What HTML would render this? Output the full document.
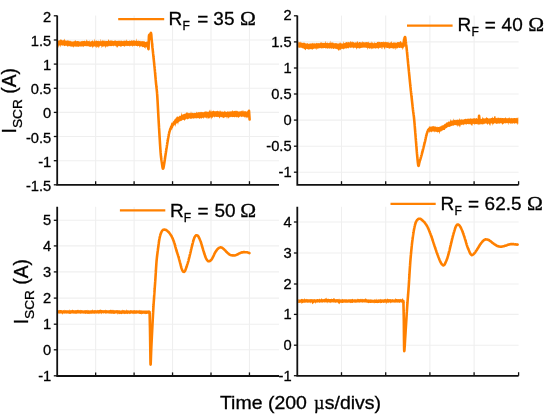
<!DOCTYPE html>
<html><head><meta charset="utf-8"><style>
html,body{margin:0;padding:0;background:#fff;}
svg{display:block;filter:blur(0.35px);}
text{font-family:"Liberation Sans",Arial,sans-serif;fill:#000;stroke:#000;stroke-width:0.3px;}
.tl text{font-size:14.7px;text-anchor:end;}
.lg{font-size:17.3px;}
.lgs{font-size:12px;}
.om{font-family:"Liberation Serif","Times New Roman",serif;font-size:18.5px;}
.yl{font-size:19.3px;}
.yls{font-size:13.7px;}
.xl{font-size:18.7px;}
.mu{font-family:"Liberation Serif",serif;}
</style></head><body>
<svg width="550" height="419" viewBox="0 0 550 419">
<rect width="550" height="419" fill="#fff"/>
<g stroke="#efefef" stroke-width="1.1">
<line x1="95.65" y1="15.6" x2="95.65" y2="184.8"/>
<line x1="134.10" y1="15.6" x2="134.10" y2="184.8"/>
<line x1="172.55" y1="15.6" x2="172.55" y2="184.8"/>
<line x1="211.00" y1="15.6" x2="211.00" y2="184.8"/>
<line x1="249.45" y1="15.6" x2="249.45" y2="184.8"/>
<line x1="58.7" y1="40.0" x2="279" y2="40.0"/>
<line x1="58.7" y1="64.1" x2="279" y2="64.1"/>
<line x1="58.7" y1="88.3" x2="279" y2="88.3"/>
<line x1="58.7" y1="112.4" x2="279" y2="112.4"/>
<line x1="58.7" y1="136.5" x2="279" y2="136.5"/>
<line x1="58.7" y1="160.7" x2="279" y2="160.7"/>
<line x1="341.50" y1="15.6" x2="341.50" y2="184.8"/>
<line x1="385.70" y1="15.6" x2="385.70" y2="184.8"/>
<line x1="429.90" y1="15.6" x2="429.90" y2="184.8"/>
<line x1="474.10" y1="15.6" x2="474.10" y2="184.8"/>
<line x1="298.8" y1="41.9" x2="518.6" y2="41.9"/>
<line x1="298.8" y1="68.0" x2="518.6" y2="68.0"/>
<line x1="298.8" y1="94.0" x2="518.6" y2="94.0"/>
<line x1="298.8" y1="120.1" x2="518.6" y2="120.1"/>
<line x1="298.8" y1="146.2" x2="518.6" y2="146.2"/>
<line x1="298.8" y1="172.2" x2="518.6" y2="172.2"/>
<line x1="95.65" y1="206.8" x2="95.65" y2="376.0"/>
<line x1="134.10" y1="206.8" x2="134.10" y2="376.0"/>
<line x1="172.55" y1="206.8" x2="172.55" y2="376.0"/>
<line x1="211.00" y1="206.8" x2="211.00" y2="376.0"/>
<line x1="249.45" y1="206.8" x2="249.45" y2="376.0"/>
<line x1="58.7" y1="220.3" x2="279" y2="220.3"/>
<line x1="58.7" y1="245.9" x2="279" y2="245.9"/>
<line x1="58.7" y1="271.9" x2="279" y2="271.9"/>
<line x1="58.7" y1="298.1" x2="279" y2="298.1"/>
<line x1="58.7" y1="324.2" x2="279" y2="324.2"/>
<line x1="58.7" y1="349.8" x2="279" y2="349.8"/>
<line x1="341.50" y1="206.8" x2="341.50" y2="375.8"/>
<line x1="385.70" y1="206.8" x2="385.70" y2="375.8"/>
<line x1="429.90" y1="206.8" x2="429.90" y2="375.8"/>
<line x1="474.10" y1="206.8" x2="474.10" y2="375.8"/>
<line x1="298.8" y1="222.0" x2="518.6" y2="222.0"/>
<line x1="298.8" y1="253.0" x2="518.6" y2="253.0"/>
<line x1="298.8" y1="284.0" x2="518.6" y2="284.0"/>
<line x1="298.8" y1="314.4" x2="518.6" y2="314.4"/>
<line x1="298.8" y1="345.2" x2="518.6" y2="345.2"/>
</g>
<g fill="#ff8000" stroke="none">
<path d="M57.80,40.48 L58.30,40.53 L58.80,40.40 L59.30,40.46 L59.80,40.02 L60.30,39.69 L60.80,39.33 L61.30,39.95 L61.80,39.61 L62.30,40.20 L62.80,40.44 L63.30,40.30 L63.80,40.06 L64.30,38.50 L64.80,40.16 L65.30,40.27 L65.80,40.66 L66.30,40.46 L66.80,40.75 L67.30,40.83 L67.80,40.05 L68.30,40.45 L68.80,40.75 L69.30,41.22 L69.80,40.38 L70.30,40.64 L70.80,41.21 L71.30,41.13 L71.80,41.51 L72.30,41.55 L72.80,41.48 L73.30,41.08 L73.80,41.67 L74.30,40.60 L74.80,41.38 L75.30,40.75 L75.80,40.11 L76.30,41.46 L76.80,41.05 L77.30,40.92 L77.80,41.07 L78.30,41.15 L78.80,41.04 L79.30,41.51 L79.80,41.53 L80.30,41.47 L80.80,41.46 L81.30,41.05 L81.80,41.15 L82.30,41.30 L82.80,40.85 L83.30,41.10 L83.80,41.02 L84.30,40.80 L84.80,40.70 L85.30,41.27 L85.80,41.35 L86.30,40.71 L86.80,39.27 L87.30,40.66 L87.80,41.18 L88.30,41.06 L88.80,41.28 L89.30,40.19 L89.80,41.39 L90.30,41.51 L90.80,41.50 L91.30,40.97 L91.80,41.36 L92.30,39.89 L92.80,40.91 L93.30,41.34 L93.80,41.50 L94.30,38.62 L94.80,41.18 L95.30,41.23 L95.80,40.48 L96.30,40.58 L96.80,40.87 L97.30,40.88 L97.80,40.96 L98.30,40.48 L98.80,41.16 L99.30,41.12 L99.80,41.14 L100.30,41.21 L100.80,38.79 L101.30,40.99 L101.80,41.25 L102.30,40.98 L102.80,39.65 L103.30,40.47 L103.80,41.00 L104.30,41.23 L104.80,40.33 L105.30,40.68 L105.80,41.16 L106.30,40.76 L106.80,40.96 L107.30,41.04 L107.80,41.03 L108.30,38.88 L108.80,40.27 L109.30,40.93 L109.80,40.58 L110.30,40.55 L110.80,40.60 L111.30,40.68 L111.80,40.22 L112.30,40.83 L112.80,40.71 L113.30,40.92 L113.80,41.03 L114.30,40.56 L114.80,40.87 L115.30,40.12 L115.80,41.05 L116.30,41.11 L116.80,40.72 L117.30,41.09 L117.80,40.64 L118.30,40.72 L118.80,40.65 L119.30,40.84 L119.80,40.76 L120.30,40.53 L120.80,41.16 L121.30,41.01 L121.80,40.27 L122.30,41.15 L122.80,40.94 L123.30,40.54 L123.80,41.17 L124.30,40.43 L124.80,40.67 L125.30,40.65 L125.80,40.67 L126.30,40.83 L126.80,39.24 L127.30,40.97 L127.80,40.96 L128.30,40.90 L128.80,40.89 L129.30,40.28 L129.80,40.93 L130.30,40.99 L130.80,40.79 L131.30,40.09 L131.80,40.72 L132.30,40.98 L132.80,40.18 L133.30,40.84 L133.80,40.07 L134.30,40.35 L134.80,40.65 L135.30,40.75 L135.80,41.06 L136.30,38.27 L136.80,41.00 L137.30,40.86 L137.80,40.93 L138.30,40.16 L138.80,41.22 L139.30,40.97 L139.80,40.84 L140.30,41.46 L140.80,40.77 L141.30,41.03 L141.80,41.57 L142.30,41.11 L142.80,41.17 L143.30,41.26 L143.80,41.31 L144.30,41.03 L144.80,41.70 L145.30,41.92 L145.80,41.85 L146.30,41.87 L146.80,41.42 L147.30,41.37 L147.80,41.69 L148.30,41.97 L148.30,46.98 L147.80,47.34 L147.30,47.44 L146.80,46.86 L146.30,47.91 L145.80,46.72 L145.30,49.20 L144.80,47.33 L144.30,48.28 L143.80,46.95 L143.30,46.97 L142.80,47.26 L142.30,47.04 L141.80,46.33 L141.30,46.42 L140.80,46.45 L140.30,46.21 L139.80,47.91 L139.30,46.15 L138.80,46.07 L138.30,46.01 L137.80,46.08 L137.30,46.63 L136.80,46.06 L136.30,45.99 L135.80,45.81 L135.30,45.78 L134.80,45.80 L134.30,46.26 L133.80,45.68 L133.30,45.91 L132.80,45.75 L132.30,47.03 L131.80,45.81 L131.30,45.84 L130.80,46.34 L130.30,45.70 L129.80,45.68 L129.30,46.66 L128.80,45.79 L128.30,45.96 L127.80,46.34 L127.30,45.71 L126.80,46.35 L126.30,45.69 L125.80,45.81 L125.30,46.00 L124.80,46.96 L124.30,46.24 L123.80,46.15 L123.30,45.91 L122.80,45.96 L122.30,45.90 L121.80,46.15 L121.30,46.41 L120.80,47.06 L120.30,46.26 L119.80,46.20 L119.30,45.93 L118.80,46.27 L118.30,45.94 L117.80,46.79 L117.30,47.91 L116.80,45.86 L116.30,47.71 L115.80,46.34 L115.30,45.77 L114.80,45.74 L114.30,45.67 L113.80,45.83 L113.30,46.56 L112.80,46.04 L112.30,45.79 L111.80,45.99 L111.30,46.26 L110.80,46.08 L110.30,46.35 L109.80,45.75 L109.30,46.19 L108.80,46.19 L108.30,46.22 L107.80,46.00 L107.30,47.16 L106.80,46.45 L106.30,46.56 L105.80,46.49 L105.30,48.39 L104.80,46.24 L104.30,46.24 L103.80,46.52 L103.30,46.38 L102.80,46.66 L102.30,46.39 L101.80,48.36 L101.30,45.89 L100.80,45.94 L100.30,45.85 L99.80,45.97 L99.30,47.07 L98.80,48.52 L98.30,46.80 L97.80,46.50 L97.30,47.41 L96.80,46.17 L96.30,48.21 L95.80,47.27 L95.30,46.38 L94.80,46.46 L94.30,46.27 L93.80,46.67 L93.30,46.48 L92.80,48.61 L92.30,46.86 L91.80,46.65 L91.30,46.14 L90.80,47.04 L90.30,46.68 L89.80,46.44 L89.30,46.96 L88.80,46.09 L88.30,46.50 L87.80,46.49 L87.30,46.02 L86.80,46.03 L86.30,46.51 L85.80,45.97 L85.30,46.24 L84.80,46.02 L84.30,46.24 L83.80,46.34 L83.30,47.36 L82.80,46.16 L82.30,46.40 L81.80,46.77 L81.30,46.32 L80.80,46.51 L80.30,46.59 L79.80,46.48 L79.30,46.19 L78.80,46.97 L78.30,46.67 L77.80,46.28 L77.30,46.93 L76.80,46.83 L76.30,46.48 L75.80,46.75 L75.30,46.61 L74.80,46.35 L74.30,46.53 L73.80,47.87 L73.30,46.78 L72.80,46.39 L72.30,46.72 L71.80,46.78 L71.30,46.60 L70.80,46.23 L70.30,46.80 L69.80,46.00 L69.30,46.19 L68.80,46.59 L68.30,45.83 L67.80,46.94 L67.30,46.16 L66.80,45.68 L66.30,45.64 L65.80,46.03 L65.30,45.61 L64.80,45.93 L64.30,46.13 L63.80,45.39 L63.30,45.50 L62.80,45.54 L62.30,45.66 L61.80,45.13 L61.30,45.55 L60.80,45.23 L60.30,47.38 L59.80,45.14 L59.30,45.47 L58.80,48.03 L58.30,45.65 L57.80,45.32Z"/>
<path d="M171.00,124.16 L171.50,122.31 L172.00,123.04 L172.50,122.60 L173.00,121.43 L173.50,121.07 L174.00,120.54 L174.50,119.62 L175.00,118.86 L175.50,118.71 L176.00,117.60 L176.50,117.61 L177.00,116.16 L177.50,116.43 L178.00,117.03 L178.50,116.82 L179.00,116.47 L179.50,115.46 L180.00,116.08 L180.50,115.85 L181.00,115.53 L181.50,112.05 L182.00,115.02 L182.50,114.43 L183.00,114.35 L183.50,114.29 L184.00,113.88 L184.50,113.64 L185.00,113.73 L185.50,113.40 L186.00,113.18 L186.50,112.05 L187.00,112.90 L187.50,111.94 L188.00,113.39 L188.50,113.02 L189.00,112.69 L189.50,113.26 L190.00,113.09 L190.50,113.17 L191.00,111.29 L191.50,112.89 L192.00,113.28 L192.50,112.82 L193.00,112.75 L193.50,113.18 L194.00,113.07 L194.50,112.73 L195.00,112.92 L195.50,112.97 L196.00,112.76 L196.50,111.54 L197.00,112.95 L197.50,112.19 L198.00,112.45 L198.50,112.11 L199.00,112.18 L199.50,112.07 L200.00,112.55 L200.50,111.85 L201.00,112.21 L201.50,111.86 L202.00,112.27 L202.50,112.08 L203.00,112.19 L203.50,112.18 L204.00,111.96 L204.50,111.64 L205.00,111.56 L205.50,111.56 L206.00,111.44 L206.50,111.77 L207.00,111.30 L207.50,111.97 L208.00,111.86 L208.50,111.81 L209.00,111.52 L209.50,109.54 L210.00,111.44 L210.50,111.17 L211.00,109.25 L211.50,111.72 L212.00,111.32 L212.50,111.23 L213.00,110.70 L213.50,110.45 L214.00,111.29 L214.50,111.37 L215.00,111.08 L215.50,111.47 L216.00,110.98 L216.50,111.36 L217.00,111.02 L217.50,110.59 L218.00,111.40 L218.50,111.03 L219.00,111.55 L219.50,111.50 L220.00,110.09 L220.50,111.37 L221.00,111.56 L221.50,111.40 L222.00,111.80 L222.50,111.55 L223.00,111.62 L223.50,111.81 L224.00,111.95 L224.50,110.59 L225.00,111.65 L225.50,111.31 L226.00,111.97 L226.50,111.92 L227.00,111.59 L227.50,111.50 L228.00,111.28 L228.50,111.74 L229.00,111.57 L229.50,111.58 L230.00,111.58 L230.50,111.52 L231.00,111.09 L231.50,111.55 L232.00,111.23 L232.50,109.76 L233.00,111.64 L233.50,110.98 L234.00,111.11 L234.50,110.95 L235.00,110.85 L235.50,111.20 L236.00,110.19 L236.50,111.32 L237.00,110.72 L237.50,111.05 L238.00,111.48 L238.50,111.41 L239.00,111.45 L239.50,111.39 L240.00,111.22 L240.50,111.47 L241.00,110.68 L241.50,110.64 L242.00,111.38 L242.50,111.07 L243.00,109.70 L243.50,111.16 L244.00,111.58 L244.50,111.27 L245.00,110.89 L245.50,111.20 L246.00,111.47 L246.50,111.49 L247.00,111.75 L247.50,110.57 L248.00,111.51 L248.50,111.79 L249.00,109.14 L249.00,117.32 L248.50,116.83 L248.00,118.57 L247.50,117.24 L247.00,117.40 L246.50,117.33 L246.00,118.76 L245.50,116.78 L245.00,116.94 L244.50,117.73 L244.00,116.55 L243.50,117.08 L243.00,116.56 L242.50,116.66 L242.00,116.75 L241.50,117.13 L241.00,116.44 L240.50,116.50 L240.00,116.47 L239.50,116.90 L239.00,117.18 L238.50,117.74 L238.00,117.82 L237.50,116.78 L237.00,117.23 L236.50,117.27 L236.00,117.25 L235.50,116.70 L235.00,116.97 L234.50,117.42 L234.00,116.97 L233.50,117.09 L233.00,117.03 L232.50,117.34 L232.00,116.88 L231.50,116.71 L231.00,117.16 L230.50,116.78 L230.00,117.44 L229.50,116.97 L229.00,117.63 L228.50,118.72 L228.00,117.11 L227.50,117.15 L227.00,118.92 L226.50,117.03 L226.00,117.29 L225.50,117.07 L225.00,117.26 L224.50,117.26 L224.00,118.37 L223.50,118.06 L223.00,117.57 L222.50,117.45 L222.00,117.37 L221.50,117.21 L221.00,116.82 L220.50,117.04 L220.00,117.45 L219.50,118.87 L219.00,117.23 L218.50,116.68 L218.00,117.15 L217.50,116.96 L217.00,116.66 L216.50,116.89 L216.00,117.08 L215.50,116.49 L215.00,117.13 L214.50,117.47 L214.00,116.58 L213.50,116.66 L213.00,117.12 L212.50,118.09 L212.00,117.54 L211.50,119.82 L211.00,116.85 L210.50,117.40 L210.00,118.84 L209.50,117.61 L209.00,118.85 L208.50,117.63 L208.00,119.46 L207.50,117.85 L207.00,117.32 L206.50,118.42 L206.00,118.28 L205.50,117.41 L205.00,117.38 L204.50,117.71 L204.00,117.25 L203.50,119.09 L203.00,117.88 L202.50,117.80 L202.00,117.92 L201.50,118.70 L201.00,118.54 L200.50,118.30 L200.00,117.94 L199.50,118.90 L199.00,118.75 L198.50,118.03 L198.00,117.99 L197.50,117.99 L197.00,118.76 L196.50,118.20 L196.00,118.27 L195.50,118.32 L195.00,118.31 L194.50,118.31 L194.00,118.56 L193.50,118.81 L193.00,118.30 L192.50,118.33 L192.00,118.85 L191.50,118.81 L191.00,118.41 L190.50,119.11 L190.00,118.42 L189.50,118.37 L189.00,118.73 L188.50,118.68 L188.00,119.13 L187.50,119.44 L187.00,118.70 L186.50,118.66 L186.00,119.48 L185.50,119.44 L185.00,119.80 L184.50,121.13 L184.00,119.73 L183.50,119.95 L183.00,119.88 L182.50,119.79 L182.00,120.63 L181.50,120.63 L181.00,120.67 L180.50,120.96 L180.00,121.45 L179.50,121.43 L179.00,121.67 L178.50,122.45 L178.00,124.96 L177.50,122.92 L177.00,123.02 L176.50,123.72 L176.00,123.77 L175.50,127.17 L175.00,124.50 L174.50,125.58 L174.00,125.57 L173.50,126.17 L173.00,127.74 L172.50,128.24 L172.00,129.97 L171.50,129.16 L171.00,130.02Z"/>
<path d="M298.20,40.42 L298.70,42.47 L299.20,42.35 L299.70,42.25 L300.20,41.56 L300.70,42.73 L301.20,42.00 L301.70,42.93 L302.20,43.07 L302.70,42.87 L303.20,42.80 L303.70,42.73 L304.20,42.61 L304.70,42.98 L305.20,42.95 L305.70,43.50 L306.20,43.70 L306.70,43.37 L307.20,43.44 L307.70,43.11 L308.20,43.52 L308.70,43.89 L309.20,43.52 L309.70,43.86 L310.20,43.01 L310.70,43.69 L311.20,43.66 L311.70,43.29 L312.20,42.81 L312.70,43.48 L313.20,42.73 L313.70,43.71 L314.20,43.67 L314.70,42.73 L315.20,43.46 L315.70,43.58 L316.20,43.25 L316.70,42.71 L317.20,43.41 L317.70,42.90 L318.20,43.12 L318.70,43.21 L319.20,43.29 L319.70,43.28 L320.20,42.79 L320.70,42.62 L321.20,42.50 L321.70,42.59 L322.20,42.69 L322.70,43.10 L323.20,42.78 L323.70,43.07 L324.20,42.96 L324.70,42.85 L325.20,43.05 L325.70,40.74 L326.20,42.94 L326.70,43.12 L327.20,42.45 L327.70,42.84 L328.20,43.15 L328.70,43.05 L329.20,42.68 L329.70,42.91 L330.20,40.42 L330.70,43.28 L331.20,42.57 L331.70,42.81 L332.20,42.09 L332.70,43.10 L333.20,42.46 L333.70,43.35 L334.20,43.30 L334.70,43.21 L335.20,42.92 L335.70,43.13 L336.20,42.91 L336.70,43.27 L337.20,43.67 L337.70,43.30 L338.20,43.55 L338.70,43.47 L339.20,43.57 L339.70,42.84 L340.20,42.28 L340.70,43.33 L341.20,43.21 L341.70,43.58 L342.20,43.44 L342.70,43.40 L343.20,43.40 L343.70,41.19 L344.20,43.20 L344.70,42.89 L345.20,42.94 L345.70,42.23 L346.20,42.09 L346.70,42.28 L347.20,41.69 L347.70,42.66 L348.20,42.26 L348.70,41.76 L349.20,42.45 L349.70,42.25 L350.20,42.30 L350.70,40.75 L351.20,41.82 L351.70,42.42 L352.20,41.15 L352.70,42.22 L353.20,42.19 L353.70,42.05 L354.20,42.38 L354.70,42.70 L355.20,42.64 L355.70,42.07 L356.20,42.66 L356.70,42.36 L357.20,40.70 L357.70,41.91 L358.20,42.52 L358.70,42.69 L359.20,42.01 L359.70,42.08 L360.20,41.95 L360.70,42.42 L361.20,42.37 L361.70,42.68 L362.20,40.95 L362.70,42.62 L363.20,41.96 L363.70,42.26 L364.20,42.42 L364.70,42.19 L365.20,42.16 L365.70,42.13 L366.20,42.16 L366.70,42.06 L367.20,42.10 L367.70,42.61 L368.20,41.62 L368.70,42.46 L369.20,42.61 L369.70,43.05 L370.20,42.65 L370.70,43.10 L371.20,41.26 L371.70,43.00 L372.20,42.41 L372.70,42.43 L373.20,43.21 L373.70,43.21 L374.20,41.47 L374.70,43.25 L375.20,42.81 L375.70,43.11 L376.20,42.89 L376.70,42.65 L377.20,41.91 L377.70,42.09 L378.20,41.60 L378.70,42.20 L379.20,42.08 L379.70,41.81 L380.20,42.40 L380.70,42.03 L381.20,42.11 L381.70,41.90 L382.20,41.92 L382.70,42.22 L383.20,41.37 L383.70,42.29 L384.20,42.37 L384.70,42.12 L385.20,42.15 L385.70,41.58 L386.20,41.99 L386.70,42.17 L387.20,42.33 L387.70,42.21 L388.20,41.86 L388.70,42.79 L389.20,42.63 L389.70,42.82 L390.20,42.53 L390.70,42.60 L391.20,40.88 L391.70,42.37 L392.20,43.03 L392.70,42.77 L393.20,42.71 L393.70,42.26 L394.20,42.50 L394.70,42.38 L395.20,42.73 L395.70,42.50 L396.20,42.78 L396.70,42.70 L397.20,42.28 L397.70,41.96 L398.20,42.29 L398.70,42.06 L399.20,41.84 L399.70,42.52 L400.20,40.92 L400.70,41.00 L401.20,42.91 L401.70,41.54 L402.20,42.52 L402.70,42.62 L403.20,43.12 L403.70,43.11 L403.70,48.15 L403.20,48.20 L402.70,50.13 L402.20,48.09 L401.70,48.17 L401.20,47.75 L400.70,47.73 L400.20,47.68 L399.70,48.11 L399.20,47.91 L398.70,47.61 L398.20,47.84 L397.70,47.95 L397.20,48.52 L396.70,48.98 L396.20,47.67 L395.70,47.97 L395.20,50.30 L394.70,48.50 L394.20,47.88 L393.70,48.22 L393.20,49.20 L392.70,48.19 L392.20,48.23 L391.70,48.34 L391.20,48.07 L390.70,48.08 L390.20,48.38 L389.70,48.43 L389.20,48.73 L388.70,48.59 L388.20,47.75 L387.70,48.04 L387.20,47.88 L386.70,48.33 L386.20,47.39 L385.70,47.36 L385.20,48.32 L384.70,49.68 L384.20,48.27 L383.70,47.56 L383.20,47.22 L382.70,47.24 L382.20,49.24 L381.70,49.03 L381.20,47.26 L380.70,47.77 L380.20,48.09 L379.70,47.83 L379.20,47.98 L378.70,49.51 L378.20,47.90 L377.70,48.61 L377.20,48.11 L376.70,47.91 L376.20,48.58 L375.70,48.86 L375.20,48.33 L374.70,48.21 L374.20,48.26 L373.70,48.56 L373.20,48.33 L372.70,48.87 L372.20,48.52 L371.70,48.21 L371.20,49.39 L370.70,48.23 L370.20,48.17 L369.70,48.13 L369.20,49.13 L368.70,48.03 L368.20,48.09 L367.70,49.91 L367.20,47.77 L366.70,47.63 L366.20,48.06 L365.70,47.68 L365.20,47.42 L364.70,47.68 L364.20,47.40 L363.70,47.78 L363.20,47.61 L362.70,47.68 L362.20,47.67 L361.70,47.63 L361.20,47.92 L360.70,48.17 L360.20,48.01 L359.70,49.09 L359.20,48.09 L358.70,48.48 L358.20,47.84 L357.70,47.98 L357.20,48.16 L356.70,49.63 L356.20,48.34 L355.70,47.77 L355.20,47.68 L354.70,47.64 L354.20,47.86 L353.70,47.63 L353.20,48.84 L352.70,47.52 L352.20,47.48 L351.70,47.79 L351.20,47.53 L350.70,48.13 L350.20,47.44 L349.70,47.43 L349.20,47.56 L348.70,48.61 L348.20,48.14 L347.70,47.98 L347.20,48.31 L346.70,48.53 L346.20,48.54 L345.70,48.15 L345.20,48.55 L344.70,48.84 L344.20,48.57 L343.70,49.76 L343.20,48.72 L342.70,48.78 L342.20,49.03 L341.70,48.70 L341.20,48.95 L340.70,50.43 L340.20,49.16 L339.70,50.72 L339.20,49.16 L338.70,50.15 L338.20,51.02 L337.70,49.13 L337.20,49.34 L336.70,48.70 L336.20,49.21 L335.70,49.01 L335.20,48.48 L334.70,48.53 L334.20,48.48 L333.70,48.94 L333.20,48.90 L332.70,48.25 L332.20,48.41 L331.70,48.33 L331.20,49.28 L330.70,48.30 L330.20,48.36 L329.70,48.60 L329.20,48.79 L328.70,48.21 L328.20,48.17 L327.70,48.85 L327.20,48.43 L326.70,48.37 L326.20,48.13 L325.70,48.42 L325.20,48.23 L324.70,48.11 L324.20,48.03 L323.70,48.11 L323.20,48.44 L322.70,47.95 L322.20,48.56 L321.70,48.44 L321.20,48.28 L320.70,48.30 L320.20,48.12 L319.70,48.18 L319.20,48.32 L318.70,48.29 L318.20,48.75 L317.70,48.34 L317.20,49.19 L316.70,48.35 L316.20,50.18 L315.70,48.66 L315.20,48.44 L314.70,48.58 L314.20,48.63 L313.70,48.95 L313.20,48.82 L312.70,49.04 L312.20,50.23 L311.70,49.28 L311.20,49.10 L310.70,49.19 L310.20,49.09 L309.70,49.33 L309.20,49.51 L308.70,49.42 L308.20,49.57 L307.70,49.17 L307.20,49.01 L306.70,48.97 L306.20,48.77 L305.70,49.93 L305.20,50.22 L304.70,49.29 L304.20,48.99 L303.70,48.55 L303.20,48.48 L302.70,48.20 L302.20,48.22 L301.70,47.87 L301.20,47.73 L300.70,47.71 L300.20,47.49 L299.70,47.93 L299.20,47.46 L298.70,47.47 L298.20,47.76Z"/>
<path d="M428.80,126.74 L429.30,126.41 L429.80,126.42 L430.30,126.54 L430.80,126.72 L431.30,126.70 L431.80,126.19 L432.30,126.38 L432.80,126.11 L433.30,126.42 L433.80,125.70 L434.30,126.57 L434.80,126.62 L435.30,126.62 L435.80,126.53 L436.30,126.81 L436.80,127.16 L437.30,126.50 L437.80,127.17 L438.30,127.09 L438.80,127.12 L439.30,126.43 L439.80,127.03 L440.30,126.46 L440.80,126.12 L441.30,126.33 L441.80,125.26 L442.30,125.48 L442.80,125.19 L443.30,125.17 L443.80,124.85 L444.30,124.32 L444.80,123.85 L445.30,123.64 L445.80,123.44 L446.30,122.08 L446.80,123.02 L447.30,122.58 L447.80,122.04 L448.30,121.46 L448.80,121.42 L449.30,121.81 L449.80,121.54 L450.30,120.59 L450.80,118.94 L451.30,120.71 L451.80,120.45 L452.30,120.50 L452.80,120.47 L453.30,118.19 L453.80,120.54 L454.30,119.68 L454.80,120.10 L455.30,120.19 L455.80,119.67 L456.30,119.78 L456.80,119.95 L457.30,119.99 L457.80,119.22 L458.30,119.82 L458.80,120.02 L459.30,119.62 L459.80,118.00 L460.30,119.46 L460.80,119.88 L461.30,119.79 L461.80,118.85 L462.30,119.80 L462.80,119.44 L463.30,119.63 L463.80,119.19 L464.30,118.95 L464.80,119.18 L465.30,118.85 L465.80,118.85 L466.30,119.33 L466.80,118.81 L467.30,118.62 L467.80,119.07 L468.30,118.53 L468.80,118.72 L469.30,118.54 L469.80,118.88 L470.30,118.04 L470.80,118.85 L471.30,118.58 L471.80,118.80 L472.30,118.64 L472.80,118.38 L473.30,118.13 L473.80,118.53 L474.30,118.27 L474.80,118.34 L475.30,118.66 L475.80,118.33 L476.30,117.96 L476.80,118.22 L477.30,118.78 L477.80,118.79 L478.30,118.64 L478.80,118.67 L479.30,118.57 L479.80,118.32 L480.30,118.92 L480.80,119.00 L481.30,118.99 L481.80,118.79 L482.30,118.29 L482.80,116.47 L483.30,118.60 L483.80,118.33 L484.30,118.19 L484.80,118.70 L485.30,117.99 L485.80,118.57 L486.30,117.54 L486.80,117.02 L487.30,118.02 L487.80,118.12 L488.30,118.43 L488.80,118.45 L489.30,118.08 L489.80,118.68 L490.30,118.19 L490.80,118.35 L491.30,117.96 L491.80,118.08 L492.30,116.48 L492.80,118.09 L493.30,117.99 L493.80,117.90 L494.30,116.17 L494.80,116.21 L495.30,116.07 L495.80,118.14 L496.30,117.74 L496.80,118.29 L497.30,118.20 L497.80,117.61 L498.30,117.42 L498.80,118.00 L499.30,117.86 L499.80,118.24 L500.30,117.82 L500.80,118.06 L501.30,118.25 L501.80,117.66 L502.30,117.94 L502.80,117.96 L503.30,118.28 L503.80,118.03 L504.30,118.13 L504.80,118.10 L505.30,117.49 L505.80,117.48 L506.30,118.33 L506.80,118.31 L507.30,118.31 L507.80,118.24 L508.30,118.15 L508.80,117.80 L509.30,117.19 L509.80,118.23 L510.30,118.31 L510.80,118.28 L511.30,118.28 L511.80,117.86 L512.30,118.36 L512.80,118.28 L513.30,118.36 L513.80,117.90 L514.30,117.99 L514.80,117.90 L515.30,118.34 L515.80,118.04 L516.30,117.86 L516.80,118.29 L517.30,118.16 L517.80,117.57 L518.30,117.60 L518.30,123.20 L517.80,125.32 L517.30,123.41 L516.80,123.49 L516.30,123.18 L515.80,123.37 L515.30,123.33 L514.80,123.17 L514.30,124.09 L513.80,123.22 L513.30,123.05 L512.80,124.09 L512.30,123.14 L511.80,123.15 L511.30,123.82 L510.80,123.38 L510.30,123.85 L509.80,122.93 L509.30,122.90 L508.80,125.18 L508.30,123.07 L507.80,123.24 L507.30,123.14 L506.80,123.11 L506.30,123.26 L505.80,123.14 L505.30,123.41 L504.80,123.00 L504.30,123.16 L503.80,123.88 L503.30,123.45 L502.80,124.06 L502.30,124.90 L501.80,123.44 L501.30,123.25 L500.80,123.25 L500.30,123.31 L499.80,123.55 L499.30,123.66 L498.80,123.39 L498.30,123.41 L497.80,123.19 L497.30,123.96 L496.80,123.78 L496.30,123.92 L495.80,123.34 L495.30,123.53 L494.80,123.30 L494.30,123.15 L493.80,123.84 L493.30,124.09 L492.80,125.77 L492.30,123.75 L491.80,123.43 L491.30,123.53 L490.80,123.33 L490.30,125.69 L489.80,125.44 L489.30,124.38 L488.80,123.50 L488.30,123.78 L487.80,124.72 L487.30,124.42 L486.80,123.58 L486.30,123.65 L485.80,123.52 L485.30,123.51 L484.80,123.47 L484.30,124.18 L483.80,123.74 L483.30,124.45 L482.80,124.06 L482.30,124.68 L481.80,124.32 L481.30,124.36 L480.80,123.85 L480.30,124.80 L479.80,123.67 L479.30,125.24 L478.80,123.75 L478.30,125.22 L477.80,124.73 L477.30,123.79 L476.80,124.34 L476.30,124.04 L475.80,124.33 L475.30,123.95 L474.80,124.27 L474.30,124.87 L473.80,123.77 L473.30,124.01 L472.80,123.81 L472.30,125.88 L471.80,124.66 L471.30,126.07 L470.80,123.71 L470.30,124.78 L469.80,124.03 L469.30,124.14 L468.80,124.38 L468.30,124.10 L467.80,124.09 L467.30,123.91 L466.80,124.08 L466.30,124.88 L465.80,124.17 L465.30,124.25 L464.80,124.13 L464.30,124.37 L463.80,125.43 L463.30,124.40 L462.80,124.69 L462.30,124.58 L461.80,125.37 L461.30,124.79 L460.80,124.59 L460.30,127.11 L459.80,125.44 L459.30,127.78 L458.80,125.17 L458.30,125.66 L457.80,126.89 L457.30,125.50 L456.80,124.94 L456.30,125.84 L455.80,125.36 L455.30,125.00 L454.80,125.11 L454.30,125.19 L453.80,125.45 L453.30,125.67 L452.80,125.78 L452.30,125.42 L451.80,126.13 L451.30,125.82 L450.80,126.22 L450.30,126.47 L449.80,126.63 L449.30,126.94 L448.80,126.68 L448.30,126.89 L447.80,127.03 L447.30,127.53 L446.80,128.30 L446.30,128.11 L445.80,128.49 L445.30,128.79 L444.80,129.99 L444.30,130.01 L443.80,129.97 L443.30,129.93 L442.80,130.41 L442.30,130.56 L441.80,130.76 L441.30,131.50 L440.80,131.36 L440.30,131.68 L439.80,132.18 L439.30,134.26 L438.80,132.06 L438.30,132.01 L437.80,132.27 L437.30,132.53 L436.80,131.81 L436.30,131.95 L435.80,131.51 L435.30,131.79 L434.80,132.53 L434.30,131.51 L433.80,131.34 L433.30,131.79 L432.80,131.64 L432.30,131.27 L431.80,131.82 L431.30,132.46 L430.80,131.71 L430.30,131.48 L429.80,132.96 L429.30,131.72 L428.80,131.78Z"/>
<path d="M57.80,309.95 L58.30,310.23 L58.80,310.16 L59.30,309.81 L59.80,310.26 L60.30,309.95 L60.80,309.92 L61.30,310.12 L61.80,310.31 L62.30,310.34 L62.80,310.39 L63.30,310.30 L63.80,309.93 L64.30,309.87 L64.80,310.41 L65.30,310.23 L65.80,310.11 L66.30,310.34 L66.80,310.33 L67.30,310.34 L67.80,310.27 L68.30,310.15 L68.80,310.33 L69.30,310.43 L69.80,309.22 L70.30,310.33 L70.80,310.15 L71.30,310.22 L71.80,310.05 L72.30,309.75 L72.80,309.81 L73.30,309.93 L73.80,310.18 L74.30,310.32 L74.80,310.29 L75.30,310.30 L75.80,310.11 L76.30,310.19 L76.80,309.96 L77.30,309.98 L77.80,309.72 L78.30,309.66 L78.80,310.34 L79.30,309.96 L79.80,310.26 L80.30,310.17 L80.80,309.80 L81.30,310.19 L81.80,310.08 L82.30,310.18 L82.80,310.23 L83.30,310.40 L83.80,310.15 L84.30,310.07 L84.80,310.38 L85.30,310.05 L85.80,310.37 L86.30,309.95 L86.80,310.28 L87.30,310.42 L87.80,309.77 L88.30,310.18 L88.80,310.22 L89.30,310.31 L89.80,310.48 L90.30,310.46 L90.80,310.03 L91.30,310.20 L91.80,310.31 L92.30,309.32 L92.80,310.31 L93.30,310.31 L93.80,310.30 L94.30,310.10 L94.80,310.30 L95.30,310.07 L95.80,310.32 L96.30,310.17 L96.80,310.17 L97.30,310.20 L97.80,309.82 L98.30,309.98 L98.80,310.21 L99.30,309.95 L99.80,309.63 L100.30,309.73 L100.80,309.57 L101.30,309.95 L101.80,309.89 L102.30,310.04 L102.80,310.20 L103.30,310.17 L103.80,309.99 L104.30,310.14 L104.80,310.12 L105.30,310.21 L105.80,309.62 L106.30,310.17 L106.80,309.90 L107.30,310.20 L107.80,310.28 L108.30,310.16 L108.80,310.20 L109.30,310.02 L109.80,310.30 L110.30,310.08 L110.80,309.46 L111.30,310.23 L111.80,309.82 L112.30,309.86 L112.80,310.18 L113.30,310.22 L113.80,309.87 L114.30,310.20 L114.80,310.32 L115.30,310.24 L115.80,310.26 L116.30,309.99 L116.80,310.13 L117.30,310.08 L117.80,310.20 L118.30,310.28 L118.80,310.15 L119.30,310.22 L119.80,310.30 L120.30,310.54 L120.80,310.51 L121.30,310.36 L121.80,310.41 L122.30,309.62 L122.80,310.48 L123.30,309.90 L123.80,310.36 L124.30,310.56 L124.80,310.09 L125.30,310.45 L125.80,310.61 L126.30,309.37 L126.80,310.39 L127.30,310.31 L127.80,310.23 L128.30,310.42 L128.80,310.37 L129.30,310.45 L129.80,310.48 L130.30,310.09 L130.80,310.20 L131.30,310.01 L131.80,310.42 L132.30,310.39 L132.80,310.21 L133.30,310.36 L133.80,310.23 L134.30,310.30 L134.80,309.92 L135.30,310.46 L135.80,310.30 L136.30,310.36 L136.80,310.19 L137.30,310.39 L137.80,310.24 L138.30,310.24 L138.80,310.40 L139.30,310.46 L139.80,309.64 L140.30,310.28 L140.80,310.62 L141.30,310.13 L141.80,310.49 L142.30,310.49 L142.80,310.49 L143.30,310.62 L143.80,310.60 L144.30,310.42 L144.80,310.62 L145.30,310.50 L145.80,310.43 L146.30,310.61 L146.80,310.54 L147.30,310.56 L147.80,310.51 L148.30,310.54 L148.80,310.32 L149.30,310.39 L149.80,310.49 L149.80,313.66 L149.30,314.35 L148.80,313.95 L148.30,313.80 L147.80,313.79 L147.30,313.66 L146.80,314.03 L146.30,313.94 L145.80,313.74 L145.30,314.22 L144.80,313.90 L144.30,313.67 L143.80,313.71 L143.30,313.72 L142.80,313.94 L142.30,313.71 L141.80,314.77 L141.30,313.75 L140.80,314.01 L140.30,314.06 L139.80,313.78 L139.30,314.08 L138.80,313.79 L138.30,313.61 L137.80,313.55 L137.30,313.61 L136.80,313.72 L136.30,313.86 L135.80,313.51 L135.30,313.95 L134.80,313.67 L134.30,313.65 L133.80,314.13 L133.30,313.46 L132.80,313.76 L132.30,313.73 L131.80,313.55 L131.30,313.62 L130.80,313.71 L130.30,313.77 L129.80,314.14 L129.30,313.84 L128.80,313.52 L128.30,313.70 L127.80,313.82 L127.30,314.22 L126.80,313.71 L126.30,313.69 L125.80,313.94 L125.30,313.65 L124.80,313.79 L124.30,314.21 L123.80,313.72 L123.30,313.77 L122.80,313.75 L122.30,313.69 L121.80,313.92 L121.30,314.17 L120.80,313.95 L120.30,313.78 L119.80,314.18 L119.30,313.88 L118.80,313.60 L118.30,313.97 L117.80,314.74 L117.30,313.60 L116.80,313.60 L116.30,313.58 L115.80,313.60 L115.30,313.52 L114.80,314.02 L114.30,313.68 L113.80,313.75 L113.30,313.88 L112.80,313.43 L112.30,313.68 L111.80,313.91 L111.30,313.44 L110.80,313.54 L110.30,313.83 L109.80,313.74 L109.30,313.40 L108.80,313.54 L108.30,313.53 L107.80,313.43 L107.30,313.36 L106.80,313.52 L106.30,313.43 L105.80,313.67 L105.30,313.58 L104.80,313.31 L104.30,313.36 L103.80,313.33 L103.30,313.81 L102.80,313.27 L102.30,313.35 L101.80,313.21 L101.30,314.40 L100.80,313.24 L100.30,313.49 L99.80,313.37 L99.30,313.63 L98.80,314.34 L98.30,313.30 L97.80,313.66 L97.30,313.35 L96.80,313.76 L96.30,313.61 L95.80,313.58 L95.30,313.43 L94.80,313.63 L94.30,313.87 L93.80,313.63 L93.30,313.61 L92.80,313.78 L92.30,313.62 L91.80,313.63 L91.30,313.82 L90.80,313.71 L90.30,313.80 L89.80,313.57 L89.30,314.13 L88.80,313.79 L88.30,313.96 L87.80,313.74 L87.30,314.09 L86.80,313.55 L86.30,313.76 L85.80,313.79 L85.30,314.12 L84.80,313.76 L84.30,313.53 L83.80,313.59 L83.30,313.83 L82.80,313.55 L82.30,313.48 L81.80,313.53 L81.30,313.53 L80.80,313.77 L80.30,313.70 L79.80,313.41 L79.30,313.58 L78.80,313.41 L78.30,313.57 L77.80,313.38 L77.30,313.42 L76.80,313.72 L76.30,313.69 L75.80,313.74 L75.30,313.73 L74.80,313.59 L74.30,313.76 L73.80,313.77 L73.30,313.59 L72.80,313.43 L72.30,313.56 L71.80,313.49 L71.30,313.54 L70.80,313.66 L70.30,313.91 L69.80,313.75 L69.30,313.95 L68.80,313.54 L68.30,313.87 L67.80,313.55 L67.30,313.52 L66.80,313.48 L66.30,313.64 L65.80,313.51 L65.30,313.45 L64.80,313.58 L64.30,313.73 L63.80,313.49 L63.30,313.58 L62.80,313.83 L62.30,314.87 L61.80,313.44 L61.30,313.54 L60.80,313.58 L60.30,313.45 L59.80,313.49 L59.30,313.67 L58.80,313.42 L58.30,313.39 L57.80,313.76Z"/>
<path d="M298.20,299.47 L298.70,299.31 L299.20,299.53 L299.70,299.44 L300.20,299.43 L300.70,299.47 L301.20,298.85 L301.70,299.06 L302.20,299.14 L302.70,298.81 L303.20,299.18 L303.70,299.20 L304.20,299.28 L304.70,297.98 L305.20,299.37 L305.70,299.19 L306.20,298.81 L306.70,299.32 L307.20,298.91 L307.70,299.20 L308.20,299.30 L308.70,299.23 L309.20,299.32 L309.70,299.29 L310.20,299.03 L310.70,299.17 L311.20,299.16 L311.70,299.05 L312.20,299.28 L312.70,299.19 L313.20,299.03 L313.70,299.41 L314.20,299.27 L314.70,299.04 L315.20,299.24 L315.70,299.38 L316.20,299.31 L316.70,299.15 L317.20,299.10 L317.70,299.09 L318.20,299.13 L318.70,299.27 L319.20,298.71 L319.70,298.76 L320.20,299.15 L320.70,299.23 L321.20,298.90 L321.70,297.92 L322.20,299.12 L322.70,299.21 L323.20,299.00 L323.70,299.13 L324.20,298.72 L324.70,299.02 L325.20,298.58 L325.70,298.48 L326.20,297.39 L326.70,298.78 L327.20,299.05 L327.70,298.85 L328.20,298.77 L328.70,298.84 L329.20,298.88 L329.70,298.89 L330.20,299.03 L330.70,299.02 L331.20,298.83 L331.70,298.87 L332.20,299.10 L332.70,298.92 L333.20,298.84 L333.70,297.96 L334.20,298.85 L334.70,298.28 L335.20,299.20 L335.70,299.35 L336.20,299.10 L336.70,299.30 L337.20,299.11 L337.70,299.35 L338.20,298.86 L338.70,299.44 L339.20,298.45 L339.70,299.44 L340.20,299.31 L340.70,299.40 L341.20,299.33 L341.70,299.51 L342.20,299.31 L342.70,298.82 L343.20,299.53 L343.70,299.17 L344.20,299.04 L344.70,299.40 L345.20,299.30 L345.70,299.29 L346.20,299.45 L346.70,299.08 L347.20,299.39 L347.70,299.47 L348.20,299.24 L348.70,299.21 L349.20,299.39 L349.70,298.88 L350.20,299.45 L350.70,298.97 L351.20,299.43 L351.70,298.98 L352.20,299.11 L352.70,298.78 L353.20,299.21 L353.70,299.43 L354.20,299.21 L354.70,299.37 L355.20,299.17 L355.70,299.28 L356.20,299.41 L356.70,299.23 L357.20,299.13 L357.70,298.42 L358.20,299.25 L358.70,298.78 L359.20,299.25 L359.70,299.01 L360.20,299.23 L360.70,298.85 L361.20,298.74 L361.70,299.19 L362.20,299.23 L362.70,298.69 L363.20,299.06 L363.70,299.27 L364.20,299.15 L364.70,299.11 L365.20,298.38 L365.70,298.61 L366.20,298.86 L366.70,299.15 L367.20,299.36 L367.70,299.39 L368.20,299.51 L368.70,299.26 L369.20,299.44 L369.70,299.50 L370.20,299.26 L370.70,299.45 L371.20,299.61 L371.70,299.49 L372.20,299.61 L372.70,299.66 L373.20,299.77 L373.70,299.72 L374.20,299.18 L374.70,299.59 L375.20,299.64 L375.70,299.56 L376.20,298.58 L376.70,299.70 L377.20,299.69 L377.70,299.57 L378.20,299.52 L378.70,299.36 L379.20,299.31 L379.70,299.57 L380.20,299.54 L380.70,298.86 L381.20,299.21 L381.70,299.46 L382.20,299.23 L382.70,299.44 L383.20,299.28 L383.70,299.40 L384.20,299.21 L384.70,299.05 L385.20,299.36 L385.70,298.50 L386.20,299.42 L386.70,299.32 L387.20,298.26 L387.70,299.12 L388.20,299.25 L388.70,298.98 L389.20,298.99 L389.70,299.13 L390.20,299.23 L390.70,299.07 L391.20,299.32 L391.70,299.52 L392.20,298.98 L392.70,299.20 L393.20,299.26 L393.70,299.41 L394.20,299.43 L394.70,299.19 L395.20,299.31 L395.70,298.07 L396.20,299.08 L396.70,299.00 L397.20,298.93 L397.70,299.17 L398.20,299.21 L398.70,298.94 L399.20,298.95 L399.70,299.25 L400.20,299.23 L400.70,298.80 L401.20,299.14 L401.70,299.16 L402.20,298.96 L402.70,298.07 L403.20,298.89 L403.20,302.52 L402.70,302.41 L402.20,302.49 L401.70,302.75 L401.20,302.50 L400.70,302.56 L400.20,302.31 L399.70,302.75 L399.20,302.88 L398.70,302.39 L398.20,302.60 L397.70,302.56 L397.20,302.69 L396.70,302.50 L396.20,302.53 L395.70,302.45 L395.20,302.80 L394.70,302.53 L394.20,302.71 L393.70,302.52 L393.20,302.60 L392.70,302.62 L392.20,302.61 L391.70,302.82 L391.20,302.60 L390.70,303.45 L390.20,302.54 L389.70,302.61 L389.20,302.62 L388.70,302.53 L388.20,303.26 L387.70,302.62 L387.20,302.84 L386.70,304.29 L386.20,302.45 L385.70,302.83 L385.20,302.69 L384.70,302.45 L384.20,302.96 L383.70,302.94 L383.20,302.65 L382.70,302.57 L382.20,302.66 L381.70,303.06 L381.20,303.08 L380.70,302.74 L380.20,303.50 L379.70,302.70 L379.20,302.65 L378.70,303.01 L378.20,303.01 L377.70,302.99 L377.20,303.28 L376.70,303.12 L376.20,303.01 L375.70,303.06 L375.20,303.07 L374.70,302.78 L374.20,303.44 L373.70,302.90 L373.20,302.80 L372.70,302.81 L372.20,302.88 L371.70,303.02 L371.20,302.75 L370.70,303.06 L370.20,302.89 L369.70,303.09 L369.20,302.75 L368.70,302.88 L368.20,303.23 L367.70,302.94 L367.20,302.60 L366.70,302.65 L366.20,302.43 L365.70,302.55 L365.20,302.51 L364.70,302.33 L364.20,302.71 L363.70,302.33 L363.20,302.48 L362.70,302.47 L362.20,302.83 L361.70,302.34 L361.20,302.43 L360.70,302.37 L360.20,302.61 L359.70,302.79 L359.20,302.51 L358.70,302.49 L358.20,302.53 L357.70,302.61 L357.20,302.49 L356.70,302.63 L356.20,302.56 L355.70,302.87 L355.20,302.71 L354.70,302.82 L354.20,302.49 L353.70,302.59 L353.20,302.57 L352.70,303.04 L352.20,302.94 L351.70,302.81 L351.20,302.88 L350.70,302.64 L350.20,303.16 L349.70,302.60 L349.20,302.64 L348.70,302.51 L348.20,302.86 L347.70,302.75 L347.20,302.64 L346.70,302.87 L346.20,302.72 L345.70,302.69 L345.20,302.65 L344.70,302.65 L344.20,302.59 L343.70,302.69 L343.20,302.87 L342.70,303.11 L342.20,303.10 L341.70,302.77 L341.20,302.91 L340.70,302.82 L340.20,302.74 L339.70,303.41 L339.20,304.36 L338.70,303.72 L338.20,303.00 L337.70,302.58 L337.20,302.55 L336.70,302.46 L336.20,302.62 L335.70,302.93 L335.20,302.51 L334.70,302.53 L334.20,302.47 L333.70,302.39 L333.20,302.55 L332.70,302.57 L332.20,302.30 L331.70,302.23 L331.20,302.77 L330.70,303.26 L330.20,302.24 L329.70,302.68 L329.20,302.61 L328.70,302.34 L328.20,302.47 L327.70,302.25 L327.20,303.61 L326.70,302.16 L326.20,302.50 L325.70,302.25 L325.20,302.43 L324.70,302.26 L324.20,302.72 L323.70,302.35 L323.20,302.31 L322.70,302.85 L322.20,302.47 L321.70,302.84 L321.20,302.26 L320.70,302.34 L320.20,302.82 L319.70,302.73 L319.20,302.80 L318.70,302.46 L318.20,302.34 L317.70,302.69 L317.20,302.56 L316.70,302.61 L316.20,302.74 L315.70,302.64 L315.20,303.92 L314.70,302.60 L314.20,302.60 L313.70,303.82 L313.20,302.72 L312.70,303.88 L312.20,304.16 L311.70,302.57 L311.20,302.60 L310.70,302.59 L310.20,303.38 L309.70,302.62 L309.20,302.51 L308.70,302.67 L308.20,302.55 L307.70,302.86 L307.20,302.63 L306.70,302.59 L306.20,302.56 L305.70,302.68 L305.20,302.61 L304.70,302.97 L304.20,302.50 L303.70,302.75 L303.20,302.83 L302.70,303.12 L302.20,303.22 L301.70,303.96 L301.20,302.62 L300.70,302.58 L300.20,302.88 L299.70,302.65 L299.20,302.96 L298.70,303.06 L298.20,302.98Z"/>
</g>
<g fill="none" stroke="#ff8000" stroke-width="2.6" stroke-linejoin="round" stroke-linecap="round">
<path d="M148.00,43.90 L148.04,44.54 L148.09,45.25 L148.16,46.26 L148.22,47.35 L148.30,48.22 L148.37,48.73 L148.44,49.11 L148.50,49.00 L148.52,48.82 L148.54,48.32 L148.56,48.11 L148.58,47.61 L148.60,47.07 L148.62,46.26 L148.64,45.59 L148.66,45.02 L148.68,44.20 L148.70,43.38 L148.72,42.55 L148.74,41.83 L148.76,41.18 L148.78,40.46 L148.80,39.66 L148.82,39.13 L148.84,38.42 L148.86,37.88 L148.88,37.37 L148.90,36.98 L149.06,35.34 L149.22,34.93 L149.40,34.99 L149.49,35.36 L149.59,36.23 L149.69,37.32 L149.80,38.18 L149.90,38.72 L150.00,38.98 L150.07,38.76 L150.13,38.18 L150.20,37.76 L150.27,36.98 L150.33,35.96 L150.40,35.25 L150.47,34.46 L150.53,33.83 L150.60,33.45 L150.91,32.92 L151.20,34.05 L151.25,34.31 L151.29,34.76 L151.33,35.21 L151.36,35.62 L151.39,36.10 L151.43,36.65 L151.48,37.45 L151.54,38.22 L151.61,39.11 L151.70,39.91 L151.75,40.35 L151.79,41.03 L151.85,41.48 L151.90,41.90 L151.96,42.60 L152.02,43.03 L152.08,43.77 L152.15,44.37 L152.21,45.04 L152.28,45.54 L152.35,46.39 L152.42,47.06 L152.49,47.75 L152.57,48.37 L152.64,48.95 L152.71,49.79 L152.78,50.38 L152.86,51.08 L152.93,51.74 L153.00,52.30 L153.07,53.11 L153.13,53.70 L153.20,54.23 L153.26,54.87 L153.33,55.41 L153.39,56.08 L153.45,56.81 L153.52,57.27 L153.58,57.87 L153.64,58.57 L153.71,59.00 L153.77,59.61 L153.84,60.36 L153.90,60.81 L153.96,61.53 L154.03,62.18 L154.09,62.72 L154.15,63.20 L154.21,63.83 L154.28,64.51 L154.34,65.21 L154.40,65.74 L154.46,66.35 L154.52,66.93 L154.58,67.46 L154.64,68.13 L154.70,68.58 L154.76,69.31 L154.82,70.03 L154.88,70.52 L154.94,71.26 L155.00,71.91 L155.06,72.41 L155.11,73.22 L155.17,73.71 L155.23,74.52 L155.28,75.01 L155.34,75.71 L155.40,76.42 L155.45,77.02 L155.51,77.57 L155.56,78.13 L155.62,78.85 L155.67,79.46 L155.73,79.94 L155.78,80.62 L155.84,81.35 L155.89,81.85 L155.95,82.35 L156.00,83.03 L156.06,83.62 L156.12,84.32 L156.18,84.76 L156.24,85.17 L156.30,85.69 L156.35,86.17 L156.41,86.82 L156.47,87.14 L156.52,87.60 L156.58,88.22 L156.64,88.53 L156.70,89.14 L156.75,89.77 L156.81,90.35 L156.87,90.81 L156.94,91.57 L157.00,92.26 L157.06,93.19 L157.13,93.97 L157.20,94.92 L157.23,95.38 L157.26,95.80 L157.29,96.41 L157.32,96.79 L157.35,97.31 L157.38,97.79 L157.41,98.33 L157.45,98.85 L157.48,99.40 L157.51,100.04 L157.54,100.47 L157.58,101.17 L157.61,101.67 L157.64,102.20 L157.67,102.80 L157.71,103.60 L157.74,104.01 L157.77,104.68 L157.81,105.45 L157.84,105.90 L157.88,106.57 L157.91,107.23 L157.95,108.01 L157.98,108.49 L158.01,109.35 L158.05,109.81 L158.08,110.58 L158.12,111.29 L158.15,111.90 L158.19,112.56 L158.23,113.21 L158.26,113.83 L158.30,114.67 L158.33,115.20 L158.37,115.92 L158.40,116.57 L158.44,117.32 L158.48,117.81 L158.51,118.44 L158.55,119.27 L158.58,119.83 L158.62,120.50 L158.66,121.14 L158.69,121.81 L158.73,122.45 L158.76,123.04 L158.80,123.48 L158.84,124.29 L158.87,124.73 L158.91,125.55 L158.95,125.98 L158.99,126.81 L159.02,127.42 L159.06,127.93 L159.10,128.76 L159.14,129.38 L159.18,129.93 L159.22,130.78 L159.26,131.38 L159.30,132.02 L159.34,132.81 L159.38,133.31 L159.42,133.97 L159.46,134.82 L159.50,135.32 L159.54,136.15 L159.58,136.67 L159.62,137.49 L159.66,138.05 L159.70,138.77 L159.74,139.42 L159.78,140.03 L159.82,140.71 L159.86,141.38 L159.90,141.90 L159.94,142.72 L159.98,143.32 L160.02,143.79 L160.06,144.40 L160.09,145.04 L160.13,145.73 L160.17,146.25 L160.21,146.77 L160.25,147.44 L160.28,147.86 L160.32,148.52 L160.36,149.06 L160.39,149.41 L160.43,150.03 L160.46,150.52 L160.50,151.08 L160.53,151.38 L160.57,151.86 L160.60,152.40 L160.69,153.32 L160.78,154.51 L160.86,155.30 L160.95,156.13 L161.03,157.04 L161.11,157.59 L161.19,158.18 L161.26,158.75 L161.34,159.40 L161.41,159.89 L161.48,160.26 L161.55,160.78 L161.63,161.16 L161.69,161.73 L161.76,162.05 L161.83,162.56 L161.90,163.10 L162.02,163.83 L162.14,164.86 L162.26,165.56 L162.37,166.35 L162.47,166.93 L162.58,167.61 L162.68,168.09 L162.79,168.41 L162.90,168.69 L163.08,168.69 L163.25,168.35 L163.43,167.98 L163.64,166.92 L163.90,165.53 L163.97,165.13 L164.05,164.55 L164.13,164.12 L164.21,163.55 L164.30,163.12 L164.39,162.58 L164.49,161.92 L164.58,161.31 L164.68,160.54 L164.78,159.79 L164.88,159.20 L164.98,158.46 L165.08,157.80 L165.18,157.10 L165.28,156.41 L165.38,155.86 L165.47,155.19 L165.57,154.62 L165.65,154.05 L165.74,153.29 L165.82,152.91 L165.90,152.36 L166.02,151.57 L166.13,150.95 L166.23,150.16 L166.33,149.39 L166.43,148.79 L166.52,148.23 L166.61,147.75 L166.70,147.15 L166.79,146.64 L166.87,145.95 L166.95,145.48 L167.04,145.04 L167.12,144.55 L167.20,143.98 L167.31,143.24 L167.42,142.59 L167.52,142.07 L167.62,141.45 L167.72,140.75 L167.81,140.34 L167.91,139.56 L168.00,139.05 L168.10,138.54 L168.20,138.07 L168.32,137.32 L168.44,136.66 L168.56,136.06 L168.68,135.26 L168.80,134.57 L168.93,134.00 L169.06,133.42 L169.20,132.71 L169.37,132.02 L169.54,131.53 L169.73,130.96 L169.91,130.33 L170.11,129.60 L170.30,129.04 L170.50,128.58 L170.76,127.97 L171.04,127.17 L171.33,126.69 L171.60,126.07 L171.83,125.46 L172.00,125.19"/>
<path d="M249.00,110.88 L249.60,119.48"/>
<path d="M403.60,46.01 L403.62,45.70 L403.65,45.08 L403.68,44.55 L403.72,43.88 L403.76,43.13 L403.81,42.43 L403.85,41.69 L403.90,41.07 L403.95,40.46 L404.00,40.10 L404.19,38.90 L404.39,38.51 L404.60,38.06 L404.90,37.11 L405.20,37.35 L405.28,37.63 L405.36,38.18 L405.44,38.82 L405.52,39.60 L405.61,40.33 L405.70,41.19 L405.80,41.93 L405.87,42.40 L405.93,43.01 L406.00,43.53 L406.06,43.76 L406.13,44.44 L406.21,44.84 L406.29,45.50 L406.37,46.09 L406.47,47.00 L406.58,47.88 L406.70,49.07 L406.74,49.37 L406.79,49.82 L406.84,50.36 L406.89,50.72 L406.94,51.44 L406.99,51.87 L407.05,52.50 L407.10,52.87 L407.16,53.57 L407.22,54.03 L407.28,54.60 L407.34,55.30 L407.40,55.92 L407.46,56.57 L407.52,57.19 L407.59,57.77 L407.65,58.54 L407.71,59.09 L407.78,59.76 L407.84,60.54 L407.91,61.18 L407.97,61.85 L408.04,62.56 L408.10,63.21 L408.17,63.71 L408.23,64.55 L408.29,65.08 L408.36,65.74 L408.42,66.30 L408.48,66.95 L408.54,67.61 L408.60,68.09 L408.66,68.87 L408.72,69.41 L408.79,70.13 L408.85,70.77 L408.91,71.38 L408.98,71.90 L409.04,72.66 L409.10,73.26 L409.17,74.00 L409.23,74.64 L409.29,75.25 L409.36,75.95 L409.42,76.46 L409.49,77.27 L409.55,77.95 L409.61,78.57 L409.68,79.19 L409.74,79.73 L409.80,80.48 L409.86,81.01 L409.92,81.55 L409.98,82.24 L410.05,82.91 L410.10,83.46 L410.16,84.09 L410.22,84.47 L410.28,85.26 L410.34,85.81 L410.39,86.25 L410.45,86.88 L410.50,87.22 L410.58,88.01 L410.65,88.69 L410.73,89.51 L410.80,90.26 L410.87,90.93 L410.95,91.37 L411.01,92.17 L411.08,92.74 L411.15,93.27 L411.22,94.02 L411.28,94.52 L411.35,94.97 L411.41,95.62 L411.47,96.25 L411.54,96.84 L411.60,97.23 L411.66,97.87 L411.72,98.28 L411.78,99.02 L411.84,99.34 L411.90,100.11 L411.98,100.72 L412.05,101.44 L412.12,102.09 L412.19,102.70 L412.26,103.32 L412.33,103.89 L412.40,104.52 L412.46,105.08 L412.53,105.73 L412.59,106.42 L412.66,106.99 L412.72,107.59 L412.79,108.18 L412.86,108.88 L412.93,109.47 L413.00,109.94 L413.07,110.61 L413.14,111.26 L413.21,111.61 L413.28,112.21 L413.34,112.67 L413.41,113.15 L413.48,113.61 L413.55,114.15 L413.62,114.59 L413.69,115.28 L413.77,115.79 L413.85,116.39 L413.93,117.19 L414.02,117.99 L414.11,118.93 L414.20,119.83 L414.24,120.25 L414.28,120.67 L414.33,121.18 L414.37,121.65 L414.42,122.26 L414.47,122.86 L414.52,123.36 L414.57,123.84 L414.62,124.39 L414.67,125.20 L414.72,125.68 L414.77,126.40 L414.83,127.10 L414.88,127.75 L414.93,128.31 L414.99,129.06 L415.04,129.60 L415.10,130.40 L415.15,131.01 L415.20,131.54 L415.26,132.39 L415.31,132.91 L415.37,133.78 L415.42,134.23 L415.47,135.06 L415.53,135.57 L415.58,136.32 L415.63,136.92 L415.68,137.68 L415.73,138.16 L415.78,138.88 L415.83,139.53 L415.88,139.91 L415.93,140.64 L415.97,141.04 L416.02,141.75 L416.06,142.29 L416.10,142.61 L416.17,143.59 L416.23,144.26 L416.29,144.98 L416.35,145.88 L416.41,146.46 L416.47,147.11 L416.52,147.82 L416.57,148.62 L416.62,149.29 L416.68,149.80 L416.73,150.43 L416.77,151.06 L416.82,151.71 L416.87,152.09 L416.92,152.84 L416.96,153.44 L417.01,153.86 L417.06,154.40 L417.11,155.06 L417.15,155.45 L417.20,155.96 L417.25,156.58 L417.30,156.99 L417.38,157.86 L417.46,158.60 L417.54,159.52 L417.62,160.25 L417.70,161.13 L417.78,161.82 L417.86,162.63 L417.93,163.21 L418.01,163.90 L418.09,164.35 L418.17,164.89 L418.24,165.20 L418.32,165.59 L418.40,165.84 L418.57,165.87 L418.72,165.63 L418.87,165.04 L419.04,163.96 L419.25,163.01 L419.50,162.08 L419.64,161.52 L419.78,160.94 L419.94,160.55 L420.10,160.01 L420.27,159.56 L420.45,158.92 L420.63,158.34 L420.82,157.62 L421.01,157.10 L421.20,156.41 L421.40,155.55 L421.60,154.97 L421.80,154.30 L421.94,153.71 L422.08,153.24 L422.23,152.50 L422.39,151.99 L422.55,151.36 L422.71,150.68 L422.87,150.16 L423.03,149.43 L423.19,148.84 L423.36,148.22 L423.52,147.55 L423.68,146.76 L423.84,146.11 L423.99,145.66 L424.14,145.01 L424.29,144.29 L424.43,143.70 L424.57,143.23 L424.70,142.62 L424.87,142.11 L425.03,141.26 L425.18,140.76 L425.32,140.06 L425.46,139.39 L425.60,138.80 L425.73,138.21 L425.86,137.53 L425.98,137.02 L426.11,136.37 L426.23,135.84 L426.35,135.55 L426.48,135.05 L426.60,134.56 L426.85,133.54 L427.09,132.88 L427.32,132.19 L427.55,131.49 L427.77,130.91 L427.99,130.49 L428.20,129.88 L428.95,129.11 L429.50,128.74"/>
<path d="M478.80,119.99 L479.10,115.81 L479.50,119.48"/>
<path d="M149.60,312.09 L149.61,312.41 L149.62,312.74 L149.62,313.13 L149.63,313.48 L149.64,313.88 L149.66,314.49 L149.67,314.83 L149.68,315.48 L149.69,316.05 L149.71,316.50 L149.72,317.12 L149.74,317.85 L149.75,318.53 L149.77,319.06 L149.78,319.76 L149.80,320.47 L149.81,321.12 L149.83,321.78 L149.84,322.52 L149.86,323.24 L149.87,323.96 L149.89,324.60 L149.91,325.33 L149.92,325.91 L149.93,326.59 L149.95,327.44 L149.96,327.97 L149.98,328.69 L149.99,329.45 L150.00,329.92 L150.01,330.62 L150.02,331.11 L150.03,331.79 L150.04,332.44 L150.05,333.05 L150.06,333.66 L150.07,334.21 L150.08,334.84 L150.09,335.38 L150.10,336.00 L150.11,336.78 L150.12,337.25 L150.13,338.10 L150.13,338.55 L150.14,339.32 L150.15,339.89 L150.16,340.56 L150.17,341.23 L150.18,341.75 L150.19,342.50 L150.20,343.11 L150.20,343.69 L150.21,344.30 L150.22,344.86 L150.23,345.60 L150.24,346.06 L150.25,346.61 L150.26,347.26 L150.26,347.92 L150.27,348.48 L150.28,348.95 L150.29,349.45 L150.30,350.06 L150.31,350.75 L150.32,351.58 L150.33,352.37 L150.35,353.14 L150.36,354.03 L150.37,354.77 L150.38,355.68 L150.39,356.43 L150.39,357.14 L150.40,358.03 L150.41,358.84 L150.43,359.51 L150.44,360.17 L150.45,360.90 L150.46,361.64 L150.47,362.10 L150.48,362.59 L150.50,363.27 L150.51,363.71 L150.53,364.03 L150.54,364.28 L150.56,364.45 L150.58,364.51 L150.60,364.54 L150.62,364.48 L150.64,364.23 L150.66,363.99 L150.68,363.82 L150.70,363.45 L150.72,363.14 L150.74,362.54 L150.77,362.03 L150.79,361.41 L150.81,360.79 L150.84,360.18 L150.86,359.62 L150.89,359.00 L150.91,358.07 L150.94,357.33 L150.97,356.68 L150.99,355.81 L151.02,354.95 L151.05,354.34 L151.08,353.36 L151.11,352.62 L151.14,351.89 L151.17,351.10 L151.20,350.35 L151.23,349.50 L151.27,348.64 L151.30,347.90 L151.33,347.49 L151.35,346.91 L151.38,346.28 L151.41,345.68 L151.43,345.13 L151.46,344.52 L151.49,343.93 L151.52,343.31 L151.55,342.78 L151.58,342.08 L151.62,341.54 L151.65,340.82 L151.68,340.12 L151.71,339.62 L151.75,338.91 L151.78,338.30 L151.81,337.50 L151.84,337.02 L151.88,336.28 L151.91,335.57 L151.94,334.89 L151.98,334.21 L152.01,333.55 L152.04,332.95 L152.07,332.34 L152.11,331.76 L152.14,331.11 L152.17,330.41 L152.20,329.83 L152.23,329.21 L152.26,328.63 L152.29,328.12 L152.32,327.64 L152.35,326.97 L152.37,326.61 L152.40,326.12 L152.44,325.30 L152.47,324.44 L152.51,323.77 L152.55,323.16 L152.58,322.59 L152.61,321.94 L152.65,321.24 L152.68,320.64 L152.71,319.82 L152.75,319.31 L152.78,318.70 L152.81,318.04 L152.84,317.54 L152.87,316.96 L152.90,316.49 L152.93,315.71 L152.96,315.21 L152.99,314.63 L153.02,314.10 L153.05,313.59 L153.08,313.07 L153.11,312.68 L153.14,312.00 L153.17,311.52 L153.20,310.92 L153.24,310.24 L153.28,309.59 L153.31,309.07 L153.35,308.44 L153.38,307.89 L153.41,307.42 L153.44,306.79 L153.47,306.49 L153.51,305.79 L153.54,305.35 L153.57,304.96 L153.61,304.20 L153.65,303.58 L153.69,303.06 L153.74,302.41 L153.79,301.62 L153.84,300.79 L153.90,300.05 L153.93,299.55 L153.97,299.00 L154.00,298.56 L154.04,298.09 L154.07,297.47 L154.11,296.89 L154.15,296.37 L154.19,295.76 L154.24,295.07 L154.28,294.66 L154.32,293.86 L154.37,293.39 L154.41,292.68 L154.46,292.13 L154.50,291.42 L154.55,290.84 L154.60,290.10 L154.64,289.39 L154.69,288.86 L154.74,288.21 L154.78,287.47 L154.83,286.91 L154.88,286.20 L154.92,285.60 L154.97,284.77 L155.02,284.30 L155.06,283.61 L155.11,283.01 L155.15,282.24 L155.19,281.67 L155.24,281.14 L155.28,280.48 L155.32,279.80 L155.36,279.22 L155.40,278.81 L155.45,278.07 L155.49,277.24 L155.54,276.62 L155.58,276.03 L155.62,275.27 L155.66,274.68 L155.70,274.06 L155.74,273.27 L155.78,272.66 L155.82,272.16 L155.86,271.31 L155.90,270.69 L155.94,270.22 L155.98,269.56 L156.02,268.88 L156.06,268.35 L156.10,267.58 L156.14,266.92 L156.18,266.52 L156.22,265.88 L156.26,265.21 L156.30,264.69 L156.34,263.99 L156.38,263.48 L156.42,262.98 L156.46,262.49 L156.51,261.82 L156.55,261.22 L156.60,260.70 L156.67,260.00 L156.74,259.35 L156.81,258.67 L156.88,257.97 L156.95,257.35 L157.02,256.64 L157.10,256.00 L157.17,255.35 L157.25,254.75 L157.32,254.16 L157.40,253.62 L157.48,252.84 L157.56,252.37 L157.63,251.66 L157.71,251.11 L157.79,250.71 L157.87,250.01 L157.94,249.47 L158.02,248.81 L158.10,248.30 L158.19,247.54 L158.27,247.02 L158.35,246.46 L158.44,245.75 L158.52,245.10 L158.60,244.43 L158.68,243.73 L158.77,243.21 L158.85,242.50 L158.94,241.87 L159.02,241.32 L159.11,240.83 L159.20,240.20 L159.30,239.62 L159.39,238.94 L159.49,238.58 L159.59,237.97 L159.70,237.53 L159.88,236.74 L160.07,236.06 L160.27,235.17 L160.48,234.51 L160.69,233.91 L160.91,233.30 L161.13,232.85 L161.35,232.20 L161.57,231.72 L161.78,231.39 L162.00,230.90 L162.60,230.31 L163.21,229.81 L163.82,229.64 L164.40,229.62 L165.13,229.76 L165.83,229.88 L166.50,230.23 L167.13,230.69 L167.72,231.30 L168.30,231.90 L168.74,232.17 L169.17,232.64 L169.59,233.22 L170.00,233.76 L170.39,234.39 L170.77,234.92 L171.14,235.52 L171.50,236.07 L171.79,236.65 L172.07,237.38 L172.35,237.80 L172.63,238.44 L172.90,239.08 L173.15,239.86 L173.39,240.31 L173.63,240.91 L173.89,241.60 L174.20,242.58 L174.35,242.99 L174.50,243.48 L174.67,244.01 L174.84,244.70 L175.02,245.30 L175.20,246.15 L175.38,246.80 L175.57,247.37 L175.76,248.10 L175.94,248.75 L176.12,249.42 L176.30,250.11 L176.49,250.58 L176.69,251.28 L176.89,251.86 L177.08,252.57 L177.28,252.98 L177.48,253.67 L177.67,254.12 L177.86,254.80 L178.05,255.47 L178.23,255.98 L178.40,256.39 L178.58,257.24 L178.76,257.75 L178.92,258.38 L179.09,259.08 L179.24,259.60 L179.40,260.11 L179.55,260.75 L179.70,261.41 L179.85,261.91 L180.00,262.42 L180.16,263.10 L180.33,263.67 L180.49,264.30 L180.64,264.93 L180.80,265.63 L180.95,266.17 L181.10,266.70 L181.25,267.36 L181.40,267.83 L181.67,268.69 L181.94,269.26 L182.20,270.02 L182.45,270.48 L182.70,271.00 L183.26,271.70 L183.80,271.92 L184.38,271.72 L185.00,271.00 L185.23,270.47 L185.47,269.84 L185.72,269.30 L185.97,268.44 L186.23,267.84 L186.50,267.02 L186.68,266.41 L186.86,265.98 L187.04,265.27 L187.23,264.66 L187.42,264.11 L187.61,263.54 L187.80,262.92 L188.00,262.16 L188.20,261.52 L188.35,261.06 L188.51,260.49 L188.66,259.83 L188.82,259.12 L188.98,258.54 L189.14,257.98 L189.30,257.35 L189.46,256.72 L189.62,255.93 L189.78,255.26 L189.94,254.61 L190.10,254.07 L190.25,253.51 L190.40,252.79 L190.54,252.13 L190.69,251.55 L190.84,250.85 L190.99,250.24 L191.14,249.51 L191.29,248.86 L191.44,248.31 L191.58,247.66 L191.72,247.04 L191.86,246.66 L192.00,246.05 L192.17,245.28 L192.34,244.75 L192.51,243.88 L192.67,243.30 L192.83,242.81 L192.99,242.24 L193.14,241.62 L193.30,240.93 L193.45,240.51 L193.60,239.90 L193.84,239.14 L194.08,238.65 L194.31,237.84 L194.53,237.31 L194.76,236.83 L195.00,236.55 L195.49,235.86 L196.00,235.33 L196.50,235.18 L197.25,235.45 L198.00,235.93 L198.30,236.31 L198.60,236.97 L198.90,237.43 L199.20,238.16 L199.50,238.74 L199.75,239.23 L200.00,239.94 L200.24,240.54 L200.49,241.06 L200.74,241.69 L201.00,242.61 L201.17,242.97 L201.35,243.54 L201.52,244.17 L201.70,244.76 L201.88,245.40 L202.06,246.20 L202.24,246.64 L202.42,247.46 L202.60,248.01 L202.79,248.51 L202.97,249.16 L203.16,249.91 L203.35,250.51 L203.55,251.06 L203.74,251.69 L203.93,252.45 L204.11,252.99 L204.30,253.54 L204.53,254.31 L204.76,254.85 L204.99,255.56 L205.22,256.35 L205.45,256.87 L205.67,257.46 L205.90,258.07 L206.30,258.92 L206.71,259.57 L207.11,260.10 L207.50,260.49 L208.26,261.21 L209.00,261.33 L209.75,261.11 L210.50,260.53 L211.00,260.15 L211.50,259.62 L212.00,258.86 L212.30,258.25 L212.60,257.81 L212.90,257.16 L213.20,256.68 L213.50,256.00 L213.79,255.32 L214.08,254.69 L214.36,253.99 L214.67,253.40 L215.00,252.76 L215.30,252.26 L215.63,251.78 L215.97,251.32 L216.31,250.78 L216.66,250.25 L217.00,249.77 L217.51,249.16 L218.03,248.77 L218.54,248.23 L219.00,247.89 L219.77,247.60 L220.50,247.32 L221.33,247.55 L222.20,247.84 L222.66,248.11 L223.14,248.61 L223.62,248.86 L224.10,249.35 L224.58,249.86 L225.06,250.46 L225.54,250.73 L226.00,251.32 L226.44,251.84 L226.86,252.09 L227.27,252.64 L227.70,253.05 L228.29,253.51 L228.90,254.07 L229.50,254.60 L230.10,254.83 L230.71,255.09 L231.30,255.32 L232.15,255.35 L233.00,255.57 L233.59,255.37 L234.20,255.52 L234.80,255.41 L235.40,255.24 L236.00,255.09 L236.60,254.83 L237.20,254.52 L237.80,254.32 L238.40,254.04 L239.00,253.58 L239.60,253.38 L240.20,252.95 L240.80,252.76 L241.40,252.51 L242.00,252.35 L242.60,252.36 L243.20,252.23 L243.80,252.00 L244.69,252.13 L245.60,252.20 L246.23,252.22 L246.86,252.31 L247.50,252.34 L248.20,252.65 L248.91,252.80 L249.40,253.10"/>
<path d="M403.40,301.05 L403.41,301.28 L403.41,301.78 L403.42,302.15 L403.43,302.44 L403.44,302.91 L403.46,303.35 L403.47,304.05 L403.48,304.43 L403.49,305.04 L403.51,305.74 L403.52,306.25 L403.53,306.88 L403.55,307.47 L403.56,308.13 L403.58,308.93 L403.60,309.51 L403.61,310.40 L403.63,310.88 L403.64,311.66 L403.66,312.34 L403.67,313.22 L403.69,313.90 L403.70,314.46 L403.72,315.16 L403.73,315.87 L403.74,316.73 L403.76,317.42 L403.77,318.07 L403.78,318.71 L403.79,319.35 L403.80,320.02 L403.81,320.50 L403.82,321.27 L403.83,321.88 L403.83,322.48 L403.84,323.00 L403.85,323.63 L403.85,324.45 L403.86,325.09 L403.87,325.69 L403.87,326.34 L403.88,326.92 L403.88,327.67 L403.89,328.28 L403.89,328.87 L403.90,329.57 L403.90,330.08 L403.91,330.80 L403.91,331.54 L403.92,332.09 L403.92,332.74 L403.93,333.36 L403.93,334.07 L403.94,334.50 L403.94,335.21 L403.95,335.74 L403.95,336.27 L403.96,336.79 L403.97,337.48 L403.97,337.91 L403.98,338.54 L403.99,339.01 L403.99,339.50 L404.00,340.09 L404.01,340.77 L404.03,341.76 L404.04,342.61 L404.05,343.43 L404.06,344.35 L404.07,345.31 L404.08,345.97 L404.09,346.87 L404.11,347.51 L404.12,348.26 L404.14,348.89 L404.15,349.34 L404.17,350.01 L404.19,350.31 L404.21,350.59 L404.24,350.81 L404.27,351.11 L404.30,351.11 L404.33,350.90 L404.36,350.65 L404.40,350.48 L404.43,349.96 L404.47,349.71 L404.51,349.00 L404.55,348.45 L404.59,347.89 L404.64,347.25 L404.68,346.44 L404.73,345.76 L404.78,345.16 L404.82,344.32 L404.87,343.34 L404.92,342.72 L404.97,341.81 L405.01,341.13 L405.06,340.18 L405.11,339.41 L405.15,338.75 L405.20,338.00 L405.24,337.39 L405.27,336.88 L405.31,336.33 L405.35,335.67 L405.38,335.20 L405.42,334.59 L405.46,334.00 L405.50,333.37 L405.53,332.66 L405.57,332.16 L405.61,331.42 L405.65,330.79 L405.69,330.25 L405.73,329.54 L405.76,328.91 L405.80,328.39 L405.84,327.84 L405.88,326.99 L405.92,326.45 L405.96,325.72 L406.00,325.19 L406.04,324.56 L406.08,323.91 L406.12,323.16 L406.16,322.68 L406.20,322.00 L406.24,321.43 L406.28,320.86 L406.31,320.32 L406.35,319.61 L406.39,319.12 L406.43,318.35 L406.46,317.81 L406.50,317.14 L406.54,316.58 L406.58,316.10 L406.62,315.51 L406.65,314.78 L406.69,314.12 L406.73,313.52 L406.77,313.05 L406.81,312.32 L406.85,311.65 L406.89,311.19 L406.93,310.50 L406.97,309.87 L407.01,309.37 L407.05,308.72 L407.09,307.93 L407.13,307.55 L407.17,306.82 L407.22,306.14 L407.26,305.71 L407.30,304.98 L407.34,304.44 L407.39,303.85 L407.43,303.12 L407.48,302.72 L407.52,302.03 L407.57,301.31 L407.61,300.84 L407.66,300.13 L407.70,299.77 L407.75,299.11 L407.80,298.46 L407.84,297.97 L407.89,297.38 L407.94,296.77 L407.98,296.06 L408.03,295.43 L408.08,295.02 L408.13,294.42 L408.18,293.69 L408.22,293.09 L408.27,292.47 L408.32,291.82 L408.37,291.35 L408.41,290.62 L408.46,290.02 L408.51,289.35 L408.55,288.57 L408.60,287.90 L408.64,287.36 L408.68,286.87 L408.72,286.31 L408.76,285.81 L408.80,285.18 L408.84,284.52 L408.88,283.81 L408.92,283.17 L408.96,282.61 L409.00,281.88 L409.04,281.34 L409.08,280.68 L409.12,279.87 L409.16,279.38 L409.20,278.56 L409.24,277.95 L409.28,277.46 L409.32,276.73 L409.36,276.13 L409.40,275.51 L409.44,274.71 L409.48,274.21 L409.52,273.49 L409.55,272.80 L409.59,272.21 L409.63,271.62 L409.66,271.16 L409.70,270.60 L409.74,270.10 L409.77,269.43 L409.80,269.02 L409.84,268.40 L409.87,267.92 L409.90,267.54 L409.96,266.59 L410.02,265.91 L410.07,264.98 L410.12,264.24 L410.17,263.71 L410.22,263.06 L410.27,262.28 L410.31,261.74 L410.35,261.23 L410.40,260.58 L410.44,260.12 L410.48,259.70 L410.52,259.19 L410.57,258.52 L410.61,258.04 L410.65,257.49 L410.70,257.04 L410.76,256.24 L410.81,255.79 L410.87,254.95 L410.93,254.42 L410.98,253.85 L411.04,253.31 L411.09,252.63 L411.15,252.10 L411.21,251.44 L411.26,250.78 L411.32,250.25 L411.38,249.71 L411.44,249.10 L411.50,248.57 L411.57,247.87 L411.63,247.18 L411.70,246.57 L411.77,245.92 L411.83,245.16 L411.90,244.59 L411.97,244.01 L412.04,243.41 L412.11,242.71 L412.18,242.17 L412.26,241.50 L412.33,240.86 L412.40,240.24 L412.49,239.68 L412.57,239.03 L412.66,238.31 L412.75,237.52 L412.84,236.99 L412.93,236.29 L413.02,235.76 L413.12,234.91 L413.21,234.47 L413.30,233.79 L413.40,233.29 L413.51,232.57 L413.61,231.78 L413.72,231.31 L413.83,230.64 L413.94,229.96 L414.06,229.33 L414.17,228.81 L414.28,228.28 L414.39,227.72 L414.50,227.08 L414.65,226.41 L414.81,225.87 L414.96,225.21 L415.11,224.67 L415.26,224.02 L415.43,223.45 L415.60,223.07 L415.86,222.26 L416.13,221.60 L416.42,221.11 L416.71,220.62 L417.00,220.13 L417.49,219.75 L418.00,219.20 L418.50,218.91 L419.25,218.81 L420.00,218.71 L420.75,219.05 L421.50,219.58 L422.00,219.97 L422.49,220.55 L423.00,220.91 L423.53,221.48 L424.08,221.80 L424.60,222.42 L424.96,222.95 L425.29,223.38 L425.63,223.93 L426.00,224.41 L426.32,224.82 L426.65,225.40 L427.00,226.07 L427.35,226.53 L427.70,227.34 L427.95,227.78 L428.20,228.47 L428.45,228.92 L428.71,229.51 L428.97,230.13 L429.23,230.84 L429.50,231.61 L429.71,232.05 L429.93,232.65 L430.16,233.18 L430.38,233.66 L430.61,234.38 L430.83,234.99 L431.06,235.60 L431.28,236.14 L431.50,236.74 L431.69,237.31 L431.89,237.80 L432.08,238.40 L432.27,239.00 L432.46,239.63 L432.64,240.30 L432.83,240.83 L433.02,241.36 L433.21,241.98 L433.40,242.49 L433.59,242.96 L433.78,243.69 L433.97,244.26 L434.16,244.82 L434.35,245.44 L434.54,245.99 L434.73,246.58 L434.92,246.96 L435.11,247.75 L435.30,248.22 L435.51,248.85 L435.72,249.49 L435.93,250.04 L436.14,250.69 L436.36,251.46 L436.57,252.01 L436.78,252.72 L436.99,253.14 L437.20,253.82 L437.44,254.47 L437.68,254.98 L437.91,255.75 L438.15,256.30 L438.39,256.92 L438.62,257.46 L438.86,258.14 L439.10,258.74 L439.37,259.46 L439.64,260.12 L439.91,260.81 L440.19,261.45 L440.46,261.99 L440.73,262.45 L441.00,263.01 L441.48,263.66 L441.98,264.41 L442.45,264.84 L442.90,265.21 L443.67,265.39 L444.40,264.69 L444.70,264.48 L445.00,263.73 L445.29,263.21 L445.59,262.45 L445.90,261.69 L446.12,261.27 L446.35,260.67 L446.58,260.05 L446.82,259.62 L447.05,258.86 L447.28,258.38 L447.50,257.63 L447.67,257.02 L447.84,256.40 L448.00,256.02 L448.17,255.25 L448.33,254.81 L448.50,254.14 L448.66,253.49 L448.83,252.76 L449.00,252.18 L449.14,251.53 L449.28,251.15 L449.42,250.56 L449.57,249.84 L449.71,249.34 L449.85,248.66 L450.00,248.18 L450.15,247.43 L450.30,246.80 L450.45,246.19 L450.60,245.71 L450.73,245.12 L450.86,244.46 L451.00,243.98 L451.13,243.29 L451.27,242.66 L451.41,242.23 L451.54,241.43 L451.68,241.01 L451.82,240.45 L451.97,239.65 L452.11,239.24 L452.25,238.64 L452.40,237.89 L452.56,237.36 L452.73,236.69 L452.90,236.08 L453.07,235.45 L453.24,234.81 L453.41,234.09 L453.58,233.54 L453.76,232.94 L453.92,232.44 L454.09,231.89 L454.25,231.37 L454.40,230.83 L454.62,230.18 L454.83,229.41 L455.04,228.71 L455.24,228.05 L455.43,227.65 L455.62,227.10 L455.81,226.54 L456.00,226.20 L456.48,225.45 L456.94,224.83 L457.40,224.45 L458.10,224.56 L458.80,224.87 L459.26,225.20 L459.72,225.77 L460.20,226.71 L460.50,227.02 L460.82,227.76 L461.14,228.22 L461.46,229.02 L461.80,229.75 L462.01,230.28 L462.23,230.76 L462.46,231.41 L462.68,232.09 L462.91,232.66 L463.14,233.20 L463.37,234.01 L463.60,234.69 L463.79,235.14 L463.98,235.68 L464.17,236.18 L464.36,236.79 L464.56,237.46 L464.75,238.01 L464.94,238.82 L465.13,239.35 L465.32,239.87 L465.50,240.52 L465.70,241.07 L465.89,241.91 L466.08,242.46 L466.26,243.17 L466.45,243.69 L466.63,244.40 L466.82,245.08 L467.01,245.60 L467.20,246.10 L467.45,246.90 L467.72,247.66 L467.98,248.22 L468.24,248.97 L468.50,249.47 L468.76,250.13 L469.00,250.49 L469.27,251.28 L469.53,251.90 L469.78,252.48 L470.03,253.18 L470.27,253.49 L470.50,254.00 L471.14,254.71 L471.80,255.11 L472.33,255.03 L472.90,254.66 L473.50,254.21 L473.88,253.82 L474.26,253.40 L474.66,253.05 L475.08,252.48 L475.50,251.87 L475.86,251.27 L476.24,250.75 L476.62,250.22 L477.01,249.69 L477.40,248.90 L477.80,248.32 L478.10,247.94 L478.41,247.32 L478.71,246.99 L479.02,246.24 L479.34,245.93 L479.66,245.22 L479.98,244.71 L480.30,244.28 L480.68,243.79 L481.06,243.34 L481.44,242.69 L481.83,242.28 L482.22,241.81 L482.61,241.40 L483.00,240.87 L483.55,240.44 L484.10,239.96 L484.65,239.74 L485.19,239.51 L485.70,239.31 L486.49,239.44 L487.24,239.48 L488.00,239.71 L488.60,239.96 L489.21,240.25 L489.82,240.79 L490.40,241.11 L490.95,241.51 L491.47,241.92 L491.98,242.49 L492.50,242.77 L493.02,243.18 L493.53,243.61 L494.05,244.03 L494.60,244.39 L495.18,244.79 L495.78,245.02 L496.39,245.59 L497.00,245.88 L497.60,246.00 L498.20,246.31 L498.80,246.49 L499.40,246.56 L500.00,246.64 L500.60,246.71 L501.20,246.72 L501.80,246.67 L502.39,246.43 L502.98,246.35 L503.57,246.18 L504.20,246.09 L504.86,245.78 L505.56,245.63 L506.27,245.45 L507.00,245.22 L507.60,244.80 L508.20,244.78 L508.82,244.47 L509.46,244.50 L510.10,244.19 L510.75,244.13 L511.40,244.14 L512.08,244.05 L512.77,244.22 L513.50,244.13 L514.19,244.30 L514.97,244.42 L515.76,244.39 L516.51,244.47 L517.15,244.67 L517.60,244.56"/>
</g>
<g stroke="#111" fill="none">
<line x1="95.65" y1="181.20" x2="95.65" y2="184.8" stroke-width="1.3"/>
<line x1="134.10" y1="181.20" x2="134.10" y2="184.8" stroke-width="1.3"/>
<line x1="172.55" y1="181.20" x2="172.55" y2="184.8" stroke-width="1.3"/>
<line x1="211.00" y1="181.20" x2="211.00" y2="184.8" stroke-width="1.3"/>
<line x1="249.45" y1="181.20" x2="249.45" y2="184.8" stroke-width="1.3"/>
<line x1="53.80" y1="15.8" x2="57.2" y2="15.8" stroke-width="1.3"/>
<line x1="53.80" y1="40.0" x2="57.2" y2="40.0" stroke-width="1.3"/>
<line x1="53.80" y1="64.1" x2="57.2" y2="64.1" stroke-width="1.3"/>
<line x1="53.80" y1="88.3" x2="57.2" y2="88.3" stroke-width="1.3"/>
<line x1="53.80" y1="112.4" x2="57.2" y2="112.4" stroke-width="1.3"/>
<line x1="53.80" y1="136.5" x2="57.2" y2="136.5" stroke-width="1.3"/>
<line x1="53.80" y1="160.7" x2="57.2" y2="160.7" stroke-width="1.3"/>
<line x1="53.80" y1="184.8" x2="57.2" y2="184.8" stroke-width="1.3"/>
<path d="M57.2,15.6 L57.2,184.8 L279,184.8" fill="none" stroke-width="1.8"/>
<line x1="341.50" y1="181.20" x2="341.50" y2="184.8" stroke-width="1.3"/>
<line x1="385.70" y1="181.20" x2="385.70" y2="184.8" stroke-width="1.3"/>
<line x1="429.90" y1="181.20" x2="429.90" y2="184.8" stroke-width="1.3"/>
<line x1="474.10" y1="181.20" x2="474.10" y2="184.8" stroke-width="1.3"/>
<line x1="518.60" y1="181.20" x2="518.60" y2="184.8" stroke-width="1.3"/>
<line x1="293.90" y1="15.8" x2="297.3" y2="15.8" stroke-width="1.3"/>
<line x1="293.90" y1="41.9" x2="297.3" y2="41.9" stroke-width="1.3"/>
<line x1="293.90" y1="68.0" x2="297.3" y2="68.0" stroke-width="1.3"/>
<line x1="293.90" y1="94.0" x2="297.3" y2="94.0" stroke-width="1.3"/>
<line x1="293.90" y1="120.1" x2="297.3" y2="120.1" stroke-width="1.3"/>
<line x1="293.90" y1="146.2" x2="297.3" y2="146.2" stroke-width="1.3"/>
<line x1="293.90" y1="172.2" x2="297.3" y2="172.2" stroke-width="1.3"/>
<path d="M297.3,15.6 L297.3,184.8 L518.6,184.8" fill="none" stroke-width="1.8"/>
<line x1="95.65" y1="372.40" x2="95.65" y2="376.0" stroke-width="1.3"/>
<line x1="134.10" y1="372.40" x2="134.10" y2="376.0" stroke-width="1.3"/>
<line x1="172.55" y1="372.40" x2="172.55" y2="376.0" stroke-width="1.3"/>
<line x1="211.00" y1="372.40" x2="211.00" y2="376.0" stroke-width="1.3"/>
<line x1="249.45" y1="372.40" x2="249.45" y2="376.0" stroke-width="1.3"/>
<line x1="53.80" y1="220.3" x2="57.2" y2="220.3" stroke-width="1.3"/>
<line x1="53.80" y1="245.9" x2="57.2" y2="245.9" stroke-width="1.3"/>
<line x1="53.80" y1="271.9" x2="57.2" y2="271.9" stroke-width="1.3"/>
<line x1="53.80" y1="298.1" x2="57.2" y2="298.1" stroke-width="1.3"/>
<line x1="53.80" y1="324.2" x2="57.2" y2="324.2" stroke-width="1.3"/>
<line x1="53.80" y1="349.8" x2="57.2" y2="349.8" stroke-width="1.3"/>
<line x1="53.80" y1="375.8" x2="57.2" y2="375.8" stroke-width="1.3"/>
<path d="M57.2,206.8 L57.2,376.0 L279,376.0" fill="none" stroke-width="1.8"/>
<line x1="341.50" y1="372.20" x2="341.50" y2="375.8" stroke-width="1.3"/>
<line x1="385.70" y1="372.20" x2="385.70" y2="375.8" stroke-width="1.3"/>
<line x1="429.90" y1="372.20" x2="429.90" y2="375.8" stroke-width="1.3"/>
<line x1="474.10" y1="372.20" x2="474.10" y2="375.8" stroke-width="1.3"/>
<line x1="518.60" y1="372.20" x2="518.60" y2="375.8" stroke-width="1.3"/>
<line x1="293.90" y1="222.0" x2="297.3" y2="222.0" stroke-width="1.3"/>
<line x1="293.90" y1="253.0" x2="297.3" y2="253.0" stroke-width="1.3"/>
<line x1="293.90" y1="284.0" x2="297.3" y2="284.0" stroke-width="1.3"/>
<line x1="293.90" y1="314.4" x2="297.3" y2="314.4" stroke-width="1.3"/>
<line x1="293.90" y1="345.2" x2="297.3" y2="345.2" stroke-width="1.3"/>
<line x1="293.90" y1="375.7" x2="297.3" y2="375.7" stroke-width="1.3"/>
<path d="M297.3,206.8 L297.3,375.8 L518.6,375.8" fill="none" stroke-width="1.8"/>
</g>
<g class="tl">
<text x="51.2" y="21.80">2</text>
<text x="51.2" y="46.00">1.5</text>
<text x="51.2" y="70.10">1</text>
<text x="51.2" y="94.30">0.5</text>
<text x="51.2" y="118.40">0</text>
<text x="51.2" y="142.50">-0.5</text>
<text x="51.2" y="166.70">-1</text>
<text x="51.2" y="190.80">-1.5</text>
<text x="291.6" y="20.40">2</text>
<text x="291.6" y="46.50">1.5</text>
<text x="291.6" y="72.60">1</text>
<text x="291.6" y="98.60">0.5</text>
<text x="291.6" y="124.70">0</text>
<text x="291.6" y="150.80">-0.5</text>
<text x="291.6" y="176.80">-1</text>
<text x="51.2" y="225.10">5</text>
<text x="51.2" y="250.70">4</text>
<text x="51.2" y="276.70">3</text>
<text x="51.2" y="302.90">2</text>
<text x="51.2" y="329.00">1</text>
<text x="51.2" y="354.60">0</text>
<text x="51.2" y="380.60">-1</text>
<text x="291.6" y="227.00">4</text>
<text x="291.6" y="258.00">3</text>
<text x="291.6" y="289.00">2</text>
<text x="291.6" y="319.40">1</text>
<text x="291.6" y="350.20">0</text>
<text x="291.6" y="380.70">-1</text>
</g>
<line x1="118.2" y1="19.1" x2="164.2" y2="19.1" stroke="#ff8000" stroke-width="2.2"/>
<line x1="407.0" y1="25.6" x2="452.6" y2="25.6" stroke="#ff8000" stroke-width="2.2"/>
<line x1="119.9" y1="210.4" x2="165.3" y2="210.4" stroke="#ff8000" stroke-width="2.2"/>
<line x1="390.5" y1="203.9" x2="435.7" y2="203.9" stroke="#ff8000" stroke-width="2.2"/>
<text transform="translate(168.60,25.10) scale(1.02,1)" style="font-family:Liberation Sans;font-size:18.6px">R</text>
<text transform="translate(182.40,30.00) scale(1.0,1)" style="font-family:Liberation Sans;font-size:12px">F</text>
<text transform="translate(197.22,25.10) scale(1.02,1)" style="font-family:Liberation Sans;font-size:18.6px">=</text>
<text transform="translate(213.35,25.10) scale(1.02,1)" style="font-family:Liberation Sans;font-size:18.6px">35</text>
<text transform="translate(240.08,25.10) scale(1.15,1)" style="font-family:Liberation Serif;font-size:18.6px">Ω</text>
<text transform="translate(457.60,31.30) scale(1.02,1)" style="font-family:Liberation Sans;font-size:18.6px">R</text>
<text transform="translate(471.40,36.35) scale(1.0,1)" style="font-family:Liberation Sans;font-size:12px">F</text>
<text transform="translate(484.82,31.30) scale(1.02,1)" style="font-family:Liberation Sans;font-size:18.6px">=</text>
<text transform="translate(501.62,31.30) scale(1.02,1)" style="font-family:Liberation Sans;font-size:18.6px">40</text>
<text transform="translate(528.28,31.30) scale(1.15,1)" style="font-family:Liberation Serif;font-size:18.6px">Ω</text>
<text transform="translate(169.90,216.55) scale(1.02,1)" style="font-family:Liberation Sans;font-size:18.6px">R</text>
<text transform="translate(183.70,221.55) scale(1.0,1)" style="font-family:Liberation Sans;font-size:12px">F</text>
<text transform="translate(197.62,216.55) scale(1.02,1)" style="font-family:Liberation Sans;font-size:18.6px">=</text>
<text transform="translate(214.55,216.55) scale(1.02,1)" style="font-family:Liberation Sans;font-size:18.6px">50</text>
<text transform="translate(240.28,216.55) scale(1.15,1)" style="font-family:Liberation Serif;font-size:18.6px">Ω</text>
<text transform="translate(440.60,209.90) scale(1.02,1)" style="font-family:Liberation Sans;font-size:18.6px">R</text>
<text transform="translate(454.40,215.25) scale(1.0,1)" style="font-family:Liberation Sans;font-size:12px">F</text>
<text transform="translate(468.02,209.90) scale(1.02,1)" style="font-family:Liberation Sans;font-size:18.6px">=</text>
<text transform="translate(484.60,209.90) scale(1.02,1)" style="font-family:Liberation Sans;font-size:18.6px">62.5</text>
<text transform="translate(526.98,209.90) scale(1.15,1)" style="font-family:Liberation Serif;font-size:18.6px">Ω</text>
<text transform="translate(219.90,409.10) scale(1.06,1)" style="font-family:Liberation Sans;font-size:18.4px">Time (200 </text>
<text transform="translate(313.88,409.10) scale(1.0,1)" style="font-family:Liberation Serif;font-size:18px">µ</text>
<text transform="translate(324.78,409.10) scale(1.06,1)" style="font-family:Liberation Sans;font-size:18.4px">s/divs)</text>

<text transform="translate(16.0,133.4) rotate(-90)" class="yl">I<tspan class="yls" dy="5.5">SCR</tspan><tspan dy="-5.5"> (A)</tspan></text>
<text transform="translate(28.2,324.3) rotate(-90)" class="yl">I<tspan class="yls" dy="5.5">SCR</tspan><tspan dy="-5.5"> (A)</tspan></text>


</svg>
</body></html>
